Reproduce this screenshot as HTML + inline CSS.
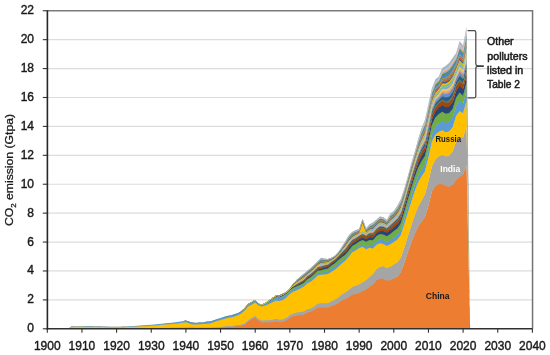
<!DOCTYPE html>
<html><head><meta charset="utf-8"><style>
html,body{margin:0;padding:0;background:#fff;}
svg{display:block;}
text{font-family:"Liberation Sans",Arial,sans-serif;}
</style></head><body>
<svg width="550" height="355" viewBox="0 0 550 355">
<rect width="550" height="355" fill="#fff"/>
<g stroke="#dcdcdc" stroke-width="1.2">
<line x1="47.5" y1="299.89" x2="532.5" y2="299.89"/>
<line x1="47.5" y1="270.97" x2="532.5" y2="270.97"/>
<line x1="47.5" y1="242.06" x2="532.5" y2="242.06"/>
<line x1="47.5" y1="213.14" x2="532.5" y2="213.14"/>
<line x1="47.5" y1="184.23" x2="532.5" y2="184.23"/>
<line x1="47.5" y1="155.32" x2="532.5" y2="155.32"/>
<line x1="47.5" y1="126.40" x2="532.5" y2="126.40"/>
<line x1="47.5" y1="97.49" x2="532.5" y2="97.49"/>
<line x1="47.5" y1="68.57" x2="532.5" y2="68.57"/>
<line x1="47.5" y1="39.66" x2="532.5" y2="39.66"/>
</g>
<g>
<polygon fill="#ED7D31" points="68.09,328.80 71.55,328.08 75.02,328.08 78.48,328.08 81.95,328.08 85.41,328.08 88.88,328.08 92.34,328.08 95.81,328.08 99.27,328.08 102.74,328.08 106.20,328.08 109.67,328.08 113.13,328.08 116.60,328.08 120.06,328.04 123.53,328.00 126.99,327.97 130.46,327.93 133.93,327.93 137.39,327.93 140.85,327.93 144.32,327.91 147.78,327.88 151.25,327.86 154.71,327.84 158.18,327.82 161.64,327.81 165.11,327.79 168.57,327.74 172.04,327.69 175.50,327.64 178.97,327.60 182.44,327.55 185.90,327.50 189.37,327.50 192.83,327.50 196.30,327.57 199.76,327.64 203.22,327.64 206.69,327.64 210.15,327.64 213.62,327.50 217.08,327.28 220.55,327.07 224.01,326.78 227.48,326.49 230.94,326.34 234.41,325.98 237.88,325.62 241.34,325.33 244.81,324.17 248.27,320.99 251.74,318.68 255.20,316.95 258.66,320.27 262.13,321.86 265.59,321.86 269.06,321.86 272.52,321.43 275.99,320.70 279.45,321.72 282.92,321.28 286.38,319.84 289.85,317.09 293.31,315.64 296.78,314.92 300.25,314.34 303.71,314.05 307.18,311.89 310.64,311.31 314.11,309.43 317.57,307.11 321.04,306.83 324.50,306.97 327.96,307.11 331.43,305.52 334.89,304.37 338.36,302.49 341.82,300.03 345.29,298.58 348.75,296.56 352.22,294.25 355.69,293.38 359.15,292.37 362.62,290.63 366.08,289.04 369.55,286.30 373.01,283.98 376.48,279.79 379.94,278.06 383.40,278.06 386.87,280.22 390.33,279.79 393.80,278.06 397.26,276.47 400.73,272.13 404.19,263.02 407.66,252.32 411.12,242.93 414.59,233.82 418.06,226.59 421.52,221.53 424.99,216.76 428.45,205.34 431.92,190.88 435.38,185.82 438.84,183.65 442.31,183.65 445.77,185.39 449.24,186.54 452.70,184.37 456.17,179.46 459.63,176.57 463.10,174.11 466.56,165.00 470.03,328.22 470.03,328.80 466.56,328.80 463.10,328.80 459.63,328.80 456.17,328.80 452.70,328.80 449.24,328.80 445.77,328.80 442.31,328.80 438.84,328.80 435.38,328.80 431.92,328.80 428.45,328.80 424.99,328.80 421.52,328.80 418.06,328.80 414.59,328.80 411.12,328.80 407.66,328.80 404.19,328.80 400.73,328.80 397.26,328.80 393.80,328.80 390.33,328.80 386.87,328.80 383.40,328.80 379.94,328.80 376.48,328.80 373.01,328.80 369.55,328.80 366.08,328.80 362.62,328.80 359.15,328.80 355.69,328.80 352.22,328.80 348.75,328.80 345.29,328.80 341.82,328.80 338.36,328.80 334.89,328.80 331.43,328.80 327.96,328.80 324.50,328.80 321.04,328.80 317.57,328.80 314.11,328.80 310.64,328.80 307.18,328.80 303.71,328.80 300.25,328.80 296.78,328.80 293.31,328.80 289.85,328.80 286.38,328.80 282.92,328.80 279.45,328.80 275.99,328.80 272.52,328.80 269.06,328.80 265.59,328.80 262.13,328.80 258.66,328.80 255.20,328.80 251.74,328.80 248.27,328.80 244.81,328.80 241.34,328.80 237.88,328.80 234.41,328.80 230.94,328.80 227.48,328.80 224.01,328.80 220.55,328.80 217.08,328.80 213.62,328.80 210.15,328.80 206.69,328.80 203.22,328.80 199.76,328.80 196.30,328.80 192.83,328.80 189.37,328.80 185.90,328.80 182.44,328.80 178.97,328.80 175.50,328.80 172.04,328.80 168.57,328.80 165.11,328.80 161.64,328.80 158.18,328.80 154.71,328.80 151.25,328.80 147.78,328.80 144.32,328.80 140.85,328.80 137.39,328.80 133.93,328.80 130.46,328.80 126.99,328.80 123.53,328.80 120.06,328.80 116.60,328.80 113.13,328.80 109.67,328.80 106.20,328.80 102.74,328.80 99.27,328.80 95.81,328.80 92.34,328.80 88.88,328.80 85.41,328.80 81.95,328.80 78.48,328.80 75.02,328.80 71.55,328.80 68.09,328.80"/>
<polygon fill="#A5A5A5" points="68.09,328.80 71.55,327.64 75.02,327.64 78.48,327.64 81.95,327.64 85.41,327.64 88.88,327.64 92.34,327.64 95.81,327.64 99.27,327.64 102.74,327.64 106.20,327.64 109.67,327.64 113.13,327.64 116.60,327.64 120.06,327.59 123.53,327.54 126.99,327.48 130.46,327.43 133.93,327.40 137.39,327.38 140.85,327.35 144.32,327.33 147.78,327.31 151.25,327.28 154.71,327.25 158.18,327.21 161.64,327.17 165.11,327.14 168.57,327.09 172.04,327.04 175.50,326.99 178.97,326.92 182.44,326.85 185.90,326.78 189.37,326.78 192.83,326.78 196.30,326.85 199.76,326.92 203.22,326.90 206.69,326.87 210.15,326.85 213.62,326.63 217.08,326.38 220.55,326.13 224.01,325.80 227.48,325.47 230.94,325.33 234.41,324.90 237.88,324.46 241.34,324.03 244.81,322.73 248.27,319.40 251.74,317.09 255.20,315.21 258.66,318.39 262.13,319.84 265.59,319.69 269.06,319.69 272.52,319.11 275.99,318.25 279.45,319.26 282.92,318.82 286.38,317.23 289.85,314.49 293.31,312.90 296.78,312.03 300.25,311.31 303.71,310.87 307.18,308.56 310.64,307.84 314.11,305.81 317.57,303.21 321.04,302.78 324.50,302.78 327.96,302.63 331.43,300.75 334.89,299.16 338.36,296.85 341.82,293.96 345.29,291.93 348.75,289.33 352.22,286.44 355.69,285.28 359.15,283.98 362.62,281.67 366.08,279.65 369.55,276.47 373.01,273.57 376.48,268.66 379.94,266.49 383.40,265.77 386.87,267.50 390.33,266.20 393.80,263.89 397.26,262.01 400.73,257.38 404.19,247.70 407.66,236.13 411.12,225.58 414.59,215.31 418.06,206.35 421.52,200.42 424.99,193.63 428.45,181.05 431.92,166.01 435.38,159.07 438.84,155.89 442.31,154.30 445.77,156.04 449.24,155.17 452.70,151.12 456.17,141.00 459.63,136.67 463.10,137.24 466.56,126.11 470.03,328.22 470.03,328.80 466.56,165.58 463.10,174.69 459.63,177.15 456.17,180.04 452.70,184.95 449.24,187.12 445.77,185.96 442.31,184.23 438.84,184.23 435.38,186.40 431.92,191.46 428.45,205.92 424.99,217.34 421.52,222.11 418.06,227.17 414.59,234.40 411.12,243.50 407.66,252.90 404.19,263.60 400.73,272.71 397.26,277.04 393.80,278.63 390.33,280.37 386.87,280.80 383.40,278.63 379.94,278.63 376.48,280.37 373.01,284.56 369.55,286.87 366.08,289.62 362.62,291.21 359.15,292.95 355.69,293.96 352.22,294.83 348.75,297.14 345.29,299.16 341.82,300.61 338.36,303.07 334.89,304.95 331.43,306.10 327.96,307.69 324.50,307.55 321.04,307.40 317.57,307.69 314.11,310.01 310.64,311.89 307.18,312.46 303.71,314.63 300.25,314.92 296.78,315.50 293.31,316.22 289.85,317.67 286.38,320.41 282.92,321.86 279.45,322.29 275.99,321.28 272.52,322.01 269.06,322.44 265.59,322.44 262.13,322.44 258.66,320.85 255.20,317.52 251.74,319.26 248.27,321.57 244.81,324.75 241.34,325.91 237.88,326.20 234.41,326.56 230.94,326.92 227.48,327.07 224.01,327.35 220.55,327.64 217.08,327.86 213.62,328.08 210.15,328.22 206.69,328.22 203.22,328.22 199.76,328.22 196.30,328.15 192.83,328.08 189.37,328.08 185.90,328.08 182.44,328.13 178.97,328.17 175.50,328.22 172.04,328.27 168.57,328.32 165.11,328.37 161.64,328.38 158.18,328.40 154.71,328.42 151.25,328.44 147.78,328.46 144.32,328.49 140.85,328.51 137.39,328.51 133.93,328.51 130.46,328.51 126.99,328.55 123.53,328.58 120.06,328.62 116.60,328.66 113.13,328.66 109.67,328.66 106.20,328.66 102.74,328.66 99.27,328.66 95.81,328.66 92.34,328.66 88.88,328.66 85.41,328.66 81.95,328.66 78.48,328.66 75.02,328.66 71.55,328.66 68.09,328.80"/>
<polygon fill="#FFC000" points="68.09,328.80 71.55,326.34 75.02,326.29 78.48,326.25 81.95,326.20 85.41,326.15 88.88,326.10 92.34,326.05 95.81,326.20 99.27,326.34 102.74,326.49 106.20,326.63 109.67,326.78 113.13,326.78 116.60,326.78 120.06,326.69 123.53,326.60 126.99,326.50 130.46,326.41 133.93,326.20 137.39,325.98 140.85,325.76 144.32,325.60 147.78,325.43 151.25,325.26 154.71,324.93 158.18,324.61 161.64,324.28 165.11,323.96 168.57,323.72 172.04,323.48 175.50,323.23 178.97,322.73 182.44,322.22 185.90,321.72 189.37,322.87 192.83,324.03 196.30,323.81 199.76,323.60 203.22,323.33 206.69,323.07 210.15,322.80 213.62,321.72 217.08,320.52 220.55,319.33 224.01,318.43 227.48,317.52 230.94,316.95 234.41,315.86 237.88,314.78 241.34,312.90 244.81,309.86 248.27,305.96 251.74,304.08 255.20,301.91 258.66,305.24 262.13,305.96 265.59,304.80 269.06,303.50 272.52,301.77 275.99,300.18 279.45,300.46 282.92,299.31 286.38,296.99 289.85,293.52 293.31,291.21 296.78,289.62 300.25,287.89 303.71,286.30 307.18,282.83 310.64,281.09 314.11,278.35 317.57,275.02 321.04,274.15 324.50,273.86 327.96,273.43 331.43,271.12 334.89,269.09 338.36,266.20 341.82,262.88 345.29,260.13 348.75,256.08 352.22,251.74 355.69,249.86 359.15,247.41 362.62,246.25 366.08,248.56 369.55,247.12 373.01,247.99 376.48,244.08 379.94,242.64 383.40,243.36 386.87,245.53 390.33,243.79 393.80,241.34 397.26,239.17 400.73,234.68 404.19,224.28 407.66,212.57 411.12,201.87 414.59,190.88 418.06,181.92 421.52,175.56 424.99,170.64 428.45,156.91 431.92,141.00 435.38,133.92 438.84,131.17 442.31,129.58 445.77,131.61 449.24,130.74 452.70,126.40 456.17,115.27 459.63,110.35 463.10,112.67 466.56,100.38 470.03,328.22 470.03,328.80 466.56,126.69 463.10,137.82 459.63,137.24 456.17,141.58 452.70,151.70 449.24,155.75 445.77,156.62 442.31,154.88 438.84,156.47 435.38,159.65 431.92,166.59 428.45,181.63 424.99,194.21 421.52,201.00 418.06,206.93 414.59,215.89 411.12,226.16 407.66,236.71 404.19,248.27 400.73,257.96 397.26,262.59 393.80,264.47 390.33,266.78 386.87,268.08 383.40,266.35 379.94,267.07 376.48,269.24 373.01,274.15 369.55,277.04 366.08,280.22 362.62,282.25 359.15,284.56 355.69,285.86 352.22,287.02 348.75,289.91 345.29,292.51 341.82,294.54 338.36,297.43 334.89,299.74 331.43,301.33 327.96,303.21 324.50,303.36 321.04,303.36 317.57,303.79 314.11,306.39 310.64,308.42 307.18,309.14 303.71,311.45 300.25,311.89 296.78,312.61 293.31,313.48 289.85,315.07 286.38,317.81 282.92,319.40 279.45,319.84 275.99,318.82 272.52,319.69 269.06,320.27 265.59,320.27 262.13,320.41 258.66,318.97 255.20,315.79 251.74,317.67 248.27,319.98 244.81,323.31 241.34,324.61 237.88,325.04 234.41,325.47 230.94,325.91 227.48,326.05 224.01,326.38 220.55,326.70 217.08,326.96 213.62,327.21 210.15,327.43 206.69,327.45 203.22,327.47 199.76,327.50 196.30,327.43 192.83,327.35 189.37,327.35 185.90,327.35 182.44,327.43 178.97,327.50 175.50,327.57 172.04,327.62 168.57,327.67 165.11,327.72 161.64,327.75 158.18,327.79 154.71,327.82 151.25,327.86 147.78,327.88 144.32,327.91 140.85,327.93 137.39,327.96 133.93,327.98 130.46,328.00 126.99,328.06 123.53,328.11 120.06,328.17 116.60,328.22 113.13,328.22 109.67,328.22 106.20,328.22 102.74,328.22 99.27,328.22 95.81,328.22 92.34,328.22 88.88,328.22 85.41,328.22 81.95,328.22 78.48,328.22 75.02,328.22 71.55,328.22 68.09,328.80"/>
<polygon fill="#5B9BD5" points="68.09,328.80 71.55,326.34 75.02,326.27 78.48,326.20 81.95,326.13 85.41,326.08 88.88,326.03 92.34,325.98 95.81,326.13 99.27,326.27 102.74,326.44 106.20,326.61 109.67,326.78 113.13,326.78 116.60,326.78 120.06,326.67 123.53,326.56 126.99,326.45 130.46,326.34 133.93,326.08 137.39,325.81 140.85,325.55 144.32,325.31 147.78,325.07 151.25,324.82 154.71,324.44 158.18,324.07 161.64,323.69 165.11,323.31 168.57,322.99 172.04,322.68 175.50,322.37 178.97,321.76 182.44,321.16 185.90,320.56 189.37,321.72 192.83,322.87 196.30,322.66 199.76,322.44 203.22,322.15 206.69,321.86 210.15,321.57 213.62,320.41 217.08,319.15 220.55,317.88 224.01,316.98 227.48,316.08 230.94,315.50 234.41,314.34 237.88,313.19 241.34,311.22 244.81,308.10 248.27,304.11 251.74,302.26 255.20,300.12 258.66,303.98 262.13,304.89 265.59,303.30 269.06,301.73 272.52,299.16 275.99,297.20 279.45,297.47 282.92,296.24 286.38,294.19 289.85,290.63 293.31,288.40 296.78,287.26 300.25,285.74 303.71,284.20 307.18,280.59 310.64,278.91 314.11,276.10 317.57,272.77 321.04,272.45 324.50,271.63 327.96,271.03 331.43,268.08 334.89,266.11 338.36,263.09 341.82,260.37 345.29,258.02 348.75,253.91 352.22,249.67 355.69,247.89 359.15,245.53 362.62,244.11 366.08,246.16 369.55,244.46 373.01,245.07 376.48,240.90 379.94,239.22 383.40,239.72 386.87,241.65 390.33,239.69 393.80,237.00 397.26,234.60 400.73,229.89 404.19,219.24 407.66,207.30 411.12,196.37 414.59,185.13 418.06,175.90 421.52,169.28 424.99,164.11 428.45,150.11 431.92,133.85 435.38,126.40 438.84,122.93 442.31,120.62 445.77,122.50 449.24,121.49 452.70,116.86 456.17,105.44 459.63,100.23 463.10,103.13 466.56,90.26 470.03,328.22 470.03,328.80 466.56,100.96 463.10,113.25 459.63,110.93 456.17,115.85 452.70,126.98 449.24,131.32 445.77,132.18 442.31,130.16 438.84,131.75 435.38,134.50 431.92,141.58 428.45,157.48 424.99,171.22 421.52,176.13 418.06,182.50 414.59,191.46 411.12,202.45 407.66,213.14 404.19,224.85 400.73,235.26 397.26,239.74 393.80,241.91 390.33,244.37 386.87,246.11 383.40,243.94 379.94,243.21 376.48,244.66 373.01,248.56 369.55,247.70 366.08,249.14 362.62,246.83 359.15,247.99 355.69,250.44 352.22,252.32 348.75,256.66 345.29,260.71 341.82,263.45 338.36,266.78 334.89,269.67 331.43,271.69 327.96,274.01 324.50,274.44 321.04,274.73 317.57,275.60 314.11,278.92 310.64,281.67 307.18,283.41 303.71,286.87 300.25,288.46 296.78,290.20 293.31,291.79 289.85,294.10 286.38,297.57 282.92,299.89 279.45,301.04 275.99,300.75 272.52,302.34 269.06,304.08 265.59,305.38 262.13,306.54 258.66,305.81 255.20,302.49 251.74,304.66 248.27,306.54 244.81,310.44 241.34,313.48 237.88,315.35 234.41,316.44 230.94,317.52 227.48,318.10 224.01,319.01 220.55,319.91 217.08,321.10 213.62,322.29 210.15,323.38 206.69,323.64 203.22,323.91 199.76,324.17 196.30,324.39 192.83,324.61 189.37,323.45 185.90,322.29 182.44,322.80 178.97,323.31 175.50,323.81 172.04,324.05 168.57,324.29 165.11,324.54 161.64,324.86 158.18,325.19 154.71,325.51 151.25,325.84 147.78,326.00 144.32,326.17 140.85,326.34 137.39,326.56 133.93,326.78 130.46,326.99 126.99,327.08 123.53,327.17 120.06,327.26 116.60,327.35 113.13,327.35 109.67,327.35 106.20,327.21 102.74,327.07 99.27,326.92 95.81,326.78 92.34,326.63 88.88,326.68 85.41,326.73 81.95,326.78 78.48,326.82 75.02,326.87 71.55,326.92 68.09,328.80"/>
<polygon fill="#70AD47" points="68.09,328.80 71.55,326.34 75.02,326.27 78.48,326.20 81.95,326.13 85.41,326.08 88.88,326.03 92.34,325.98 95.81,326.13 99.27,326.27 102.74,326.44 106.20,326.61 109.67,326.78 113.13,326.78 116.60,326.78 120.06,326.67 123.53,326.56 126.99,326.45 130.46,326.34 133.93,326.08 137.39,325.81 140.85,325.55 144.32,325.31 147.78,325.07 151.25,324.82 154.71,324.44 158.18,324.07 161.64,323.69 165.11,323.31 168.57,322.99 172.04,322.68 175.50,322.37 178.97,321.76 182.44,321.16 185.90,320.56 189.37,321.72 192.83,322.87 196.30,322.66 199.76,322.44 203.22,322.15 206.69,321.86 210.15,321.57 213.62,320.41 217.08,319.15 220.55,317.88 224.01,316.98 227.48,316.08 230.94,315.50 234.41,314.34 237.88,313.19 241.34,311.16 244.81,307.98 248.27,303.93 251.74,302.05 255.20,299.89 258.66,303.79 262.13,304.66 265.59,302.91 269.06,301.15 272.52,298.44 275.99,296.39 279.45,296.57 282.92,295.26 286.38,293.12 289.85,289.48 293.31,287.07 296.78,285.75 300.25,284.07 303.71,282.35 307.18,278.56 310.64,276.71 314.11,273.73 317.57,270.23 321.04,269.73 324.50,268.74 327.96,267.97 331.43,264.86 334.89,262.73 338.36,259.53 341.82,256.65 345.29,254.14 348.75,249.86 352.22,245.43 355.69,243.46 359.15,240.90 362.62,239.31 366.08,241.19 369.55,239.31 373.01,239.74 376.48,235.41 379.94,233.53 383.40,233.82 386.87,235.55 390.33,233.38 393.80,230.49 397.26,227.80 400.73,222.80 404.19,211.87 407.66,199.64 411.12,188.42 414.59,176.91 418.06,167.43 421.52,160.55 424.99,155.11 428.45,140.86 431.92,124.45 435.38,116.86 438.84,113.39 442.31,111.08 445.77,113.25 449.24,112.52 452.70,108.09 456.17,96.86 459.63,91.85 463.10,95.17 466.56,82.02 470.03,328.22 470.03,328.80 466.56,90.84 463.10,103.70 459.63,100.81 456.17,106.02 452.70,117.44 449.24,122.06 445.77,123.08 442.31,121.20 438.84,123.51 435.38,126.98 431.92,134.43 428.45,150.69 424.99,164.68 421.52,169.86 418.06,176.48 414.59,185.70 411.12,196.95 407.66,207.88 404.19,219.82 400.73,230.46 397.26,235.18 393.80,237.58 390.33,240.27 386.87,242.23 383.40,240.29 379.94,239.80 376.48,241.48 373.01,245.64 369.55,245.04 366.08,246.74 362.62,244.69 359.15,246.11 355.69,248.47 352.22,250.25 348.75,254.49 345.29,258.60 341.82,260.95 338.36,263.66 334.89,266.69 331.43,268.66 327.96,271.60 324.50,272.21 321.04,273.02 317.57,273.35 314.11,276.68 310.64,279.49 307.18,281.17 303.71,284.77 300.25,286.32 296.78,287.83 293.31,288.97 289.85,291.21 286.38,294.77 282.92,296.82 279.45,298.05 275.99,297.78 272.52,299.74 269.06,302.31 265.59,303.88 262.13,305.46 258.66,304.56 255.20,300.70 251.74,302.84 248.27,304.69 244.81,308.68 241.34,311.80 237.88,313.60 234.41,314.57 230.94,315.72 227.48,316.31 224.01,317.22 220.55,318.12 217.08,319.38 213.62,320.63 210.15,321.78 206.69,322.07 203.22,322.35 199.76,322.64 196.30,322.85 192.83,323.06 189.37,321.90 185.90,320.73 182.44,321.16 178.97,321.76 175.50,322.37 172.04,322.68 168.57,322.99 165.11,323.31 161.64,323.69 158.18,324.07 154.71,324.44 151.25,324.82 147.78,325.07 144.32,325.31 140.85,325.55 137.39,325.81 133.93,326.08 130.46,326.34 126.99,326.45 123.53,326.56 120.06,326.67 116.60,326.78 113.13,326.78 109.67,326.78 106.20,326.61 102.74,326.44 99.27,326.27 95.81,326.13 92.34,325.98 88.88,326.03 85.41,326.08 81.95,326.13 78.48,326.20 75.02,326.27 71.55,326.34 68.09,328.80"/>
<polygon fill="#264478" points="68.09,328.80 71.55,326.34 75.02,326.27 78.48,326.20 81.95,326.13 85.41,326.08 88.88,326.03 92.34,325.98 95.81,326.13 99.27,326.27 102.74,326.44 106.20,326.61 109.67,326.78 113.13,326.78 116.60,326.78 120.06,326.67 123.53,326.56 126.99,326.45 130.46,326.34 133.93,326.08 137.39,325.81 140.85,325.55 144.32,325.31 147.78,325.07 151.25,324.82 154.71,324.44 158.18,324.07 161.64,323.69 165.11,323.31 168.57,322.99 172.04,322.68 175.50,322.37 178.97,321.76 182.44,321.16 185.90,320.56 189.37,321.72 192.83,322.87 196.30,322.66 199.76,322.44 203.22,322.15 206.69,321.86 210.15,321.57 213.62,320.41 217.08,319.15 220.55,317.88 224.01,316.98 227.48,316.08 230.94,315.50 234.41,314.34 237.88,313.19 241.34,311.16 244.81,307.98 248.27,303.93 251.74,302.05 255.20,299.89 258.66,303.79 262.13,304.66 265.59,302.78 269.06,300.73 272.52,297.93 275.99,295.84 279.45,295.98 282.92,294.62 286.38,292.44 289.85,288.75 293.31,286.27 296.78,284.89 300.25,283.13 303.71,281.33 307.18,277.48 310.64,275.56 314.11,272.50 317.57,268.93 321.04,268.36 324.50,267.29 327.96,266.40 331.43,263.16 334.89,260.91 338.36,257.59 341.82,254.59 345.29,251.95 348.75,247.55 352.22,243.17 355.69,241.24 359.15,238.73 362.62,237.03 366.08,238.79 369.55,236.80 373.01,237.11 376.48,232.66 379.94,230.61 383.40,230.72 386.87,232.29 390.33,229.94 393.80,226.88 397.26,224.04 400.73,218.90 404.19,207.82 407.66,195.45 411.12,184.09 414.59,172.40 418.06,162.75 421.52,155.69 424.99,150.08 428.45,135.65 431.92,118.96 435.38,111.08 438.84,107.32 442.31,104.72 445.77,106.86 449.24,106.10 452.70,101.64 456.17,90.38 459.63,85.34 463.10,88.60 466.56,75.37 470.03,328.22 470.03,328.80 466.56,82.60 463.10,95.75 459.63,92.43 456.17,97.44 452.70,108.67 449.24,113.10 445.77,113.82 442.31,111.66 438.84,113.97 435.38,117.44 431.92,125.03 428.45,141.44 424.99,155.69 421.52,161.13 418.06,168.01 414.59,177.49 411.12,189.00 407.66,200.22 404.19,212.45 400.73,223.38 397.26,228.38 393.80,231.07 390.33,233.96 386.87,236.13 383.40,234.40 379.94,234.11 376.48,235.99 373.01,240.32 369.55,239.89 366.08,241.77 362.62,239.89 359.15,241.48 355.69,244.03 352.22,246.01 348.75,250.44 345.29,254.72 341.82,257.23 338.36,260.11 334.89,263.30 331.43,265.44 327.96,268.55 324.50,269.32 321.04,270.31 317.57,270.81 314.11,274.31 310.64,277.29 307.18,279.14 303.71,282.92 300.25,284.64 296.78,286.33 293.31,287.64 289.85,290.06 286.38,293.70 282.92,295.84 279.45,297.15 275.99,296.97 272.52,299.02 269.06,301.73 265.59,303.49 262.13,305.23 258.66,304.33 255.20,300.44 251.74,302.59 248.27,304.45 244.81,308.46 241.34,311.61 237.88,313.60 234.41,314.57 230.94,315.72 227.48,316.31 224.01,317.22 220.55,318.12 217.08,319.38 213.62,320.63 210.15,321.78 206.69,322.07 203.22,322.35 199.76,322.64 196.30,322.85 192.83,323.06 189.37,321.90 185.90,320.73 182.44,321.16 178.97,321.76 175.50,322.37 172.04,322.68 168.57,322.99 165.11,323.31 161.64,323.69 158.18,324.07 154.71,324.44 151.25,324.82 147.78,325.07 144.32,325.31 140.85,325.55 137.39,325.81 133.93,326.08 130.46,326.34 126.99,326.45 123.53,326.56 120.06,326.67 116.60,326.78 113.13,326.78 109.67,326.78 106.20,326.61 102.74,326.44 99.27,326.27 95.81,326.13 92.34,325.98 88.88,326.03 85.41,326.08 81.95,326.13 78.48,326.20 75.02,326.27 71.55,326.34 68.09,328.80"/>
<polygon fill="#9E480E" points="68.09,328.80 71.55,326.34 75.02,326.27 78.48,326.20 81.95,326.13 85.41,326.08 88.88,326.03 92.34,325.98 95.81,326.13 99.27,326.27 102.74,326.44 106.20,326.61 109.67,326.78 113.13,326.78 116.60,326.78 120.06,326.67 123.53,326.56 126.99,326.45 130.46,326.34 133.93,326.08 137.39,325.81 140.85,325.55 144.32,325.31 147.78,325.07 151.25,324.82 154.71,324.44 158.18,324.07 161.64,323.69 165.11,323.31 168.57,322.99 172.04,322.68 175.50,322.37 178.97,321.76 182.44,321.16 185.90,320.56 189.37,321.72 192.83,322.87 196.30,322.66 199.76,322.44 203.22,322.15 206.69,321.86 210.15,321.57 213.62,320.41 217.08,319.15 220.55,317.88 224.01,316.98 227.48,316.08 230.94,315.50 234.41,314.34 237.88,313.19 241.34,311.16 244.81,307.98 248.27,303.93 251.74,302.05 255.20,299.89 258.66,303.79 262.13,304.66 265.59,302.78 269.06,300.61 272.52,297.72 275.99,295.55 279.45,295.63 282.92,294.24 286.38,292.04 289.85,288.32 293.31,285.78 296.78,284.34 300.25,282.52 303.71,280.67 307.18,276.76 310.64,274.78 314.11,271.66 317.57,268.03 321.04,267.40 324.50,266.28 327.96,265.24 331.43,261.86 334.89,259.46 338.36,256.00 341.82,252.85 345.29,250.07 348.75,245.53 352.22,241.14 355.69,239.21 359.15,236.71 362.62,234.92 366.08,236.59 369.55,234.51 373.01,234.74 376.48,230.20 379.94,228.06 383.40,228.09 386.87,229.57 390.33,227.14 393.80,223.99 397.26,221.10 400.73,215.89 404.19,204.76 407.66,192.33 411.12,180.90 414.59,169.11 418.06,159.34 421.52,152.16 424.99,146.44 428.45,131.90 431.92,115.11 435.38,107.15 438.84,103.30 442.31,100.61 445.77,102.66 449.24,101.88 452.70,97.38 456.17,86.08 459.63,81.01 463.10,84.19 466.56,70.89 470.03,328.22 470.03,328.80 466.56,75.95 463.10,89.18 459.63,85.92 456.17,90.96 452.70,102.22 449.24,106.68 445.77,107.43 442.31,105.29 438.84,107.90 435.38,111.66 431.92,119.53 428.45,136.23 424.99,150.66 421.52,156.27 418.06,163.33 414.59,172.98 411.12,184.66 407.66,196.03 404.19,208.40 400.73,219.48 397.26,224.62 393.80,227.46 390.33,230.52 386.87,232.86 383.40,231.30 379.94,231.19 376.48,233.24 373.01,237.69 369.55,237.37 366.08,239.37 362.62,237.61 359.15,239.31 355.69,241.82 352.22,243.74 348.75,248.13 345.29,252.53 341.82,255.17 338.36,258.17 334.89,261.49 331.43,263.74 327.96,266.98 324.50,267.87 321.04,268.93 317.57,269.51 314.11,273.08 310.64,276.14 307.18,278.06 303.71,281.91 300.25,283.70 296.78,285.46 293.31,286.85 289.85,289.33 286.38,293.02 282.92,295.20 279.45,296.56 275.99,296.42 272.52,298.51 269.06,301.31 265.59,303.20 262.13,305.03 258.66,304.12 255.20,300.18 251.74,302.32 248.27,304.18 244.81,308.21 241.34,311.36 237.88,313.37 234.41,314.34 230.94,315.50 227.48,316.08 224.01,316.98 220.55,317.88 217.08,319.15 213.62,320.41 210.15,321.57 206.69,321.86 203.22,322.15 199.76,322.44 196.30,322.66 192.83,322.87 189.37,321.72 185.90,320.56 182.44,321.16 178.97,321.76 175.50,322.37 172.04,322.68 168.57,322.99 165.11,323.31 161.64,323.69 158.18,324.07 154.71,324.44 151.25,324.82 147.78,325.07 144.32,325.31 140.85,325.55 137.39,325.81 133.93,326.08 130.46,326.34 126.99,326.45 123.53,326.56 120.06,326.67 116.60,326.78 113.13,326.78 109.67,326.78 106.20,326.61 102.74,326.44 99.27,326.27 95.81,326.13 92.34,325.98 88.88,326.03 85.41,326.08 81.95,326.13 78.48,326.20 75.02,326.27 71.55,326.34 68.09,328.80"/>
<polygon fill="#636363" points="68.09,328.80 71.55,326.34 75.02,326.27 78.48,326.20 81.95,326.13 85.41,326.08 88.88,326.03 92.34,325.98 95.81,326.13 99.27,326.27 102.74,326.44 106.20,326.61 109.67,326.78 113.13,326.78 116.60,326.78 120.06,326.67 123.53,326.56 126.99,326.45 130.46,326.34 133.93,326.08 137.39,325.81 140.85,325.55 144.32,325.31 147.78,325.07 151.25,324.82 154.71,324.44 158.18,324.07 161.64,323.69 165.11,323.31 168.57,322.99 172.04,322.68 175.50,322.37 178.97,321.76 182.44,321.16 185.90,320.56 189.37,321.72 192.83,322.87 196.30,322.66 199.76,322.44 203.22,322.15 206.69,321.86 210.15,321.57 213.62,320.41 217.08,319.15 220.55,317.88 224.01,316.98 227.48,316.08 230.94,315.50 234.41,314.34 237.88,313.19 241.34,311.16 244.81,307.98 248.27,303.93 251.74,302.05 255.20,299.89 258.66,303.79 262.13,304.66 265.59,302.78 269.06,300.61 272.52,297.72 275.99,295.55 279.45,295.63 282.92,294.24 286.38,292.04 289.85,288.32 293.31,285.78 296.78,284.12 300.25,282.28 303.71,280.40 307.18,276.53 310.64,274.52 314.11,271.41 317.57,267.79 321.04,267.08 324.50,266.02 327.96,265.02 331.43,261.86 334.89,259.46 338.36,256.00 341.82,252.66 345.29,249.79 348.75,245.21 352.22,240.85 355.69,238.93 359.15,236.47 362.62,234.66 366.08,236.34 369.55,234.22 373.01,234.39 376.48,229.90 379.94,227.74 383.40,227.79 386.87,229.31 390.33,226.79 393.80,223.65 397.26,220.71 400.73,215.48 404.19,204.38 407.66,191.96 411.12,180.51 414.59,168.72 418.06,158.89 421.52,151.63 424.99,145.85 428.45,131.29 431.92,114.54 435.38,106.56 438.84,102.75 442.31,99.94 445.77,101.92 449.24,101.10 452.70,96.61 456.17,85.45 459.63,80.26 463.10,83.47 466.56,70.08 470.03,328.22 470.03,328.80 466.56,71.47 463.10,84.77 459.63,81.59 456.17,86.66 452.70,97.96 449.24,102.45 445.77,103.24 442.31,101.19 438.84,103.88 435.38,107.72 431.92,115.69 428.45,132.47 424.99,147.02 421.52,152.74 418.06,159.91 414.59,169.69 411.12,181.48 407.66,192.90 404.19,205.34 400.73,216.47 397.26,221.67 393.80,224.57 390.33,227.72 386.87,230.15 383.40,228.67 379.94,228.64 376.48,230.78 373.01,235.32 369.55,235.09 366.08,237.17 362.62,235.49 359.15,237.29 355.69,239.79 352.22,241.72 348.75,246.11 345.29,250.65 341.82,253.43 338.36,256.58 334.89,260.04 331.43,262.44 327.96,265.82 324.50,266.86 321.04,267.98 317.57,268.61 314.11,272.24 310.64,275.36 307.18,277.33 303.71,281.25 300.25,283.10 296.78,284.91 293.31,286.36 289.85,288.90 286.38,292.61 282.92,294.82 279.45,296.21 275.99,296.10 272.52,298.22 269.06,301.07 265.59,303.20 262.13,305.03 258.66,304.12 255.20,300.18 251.74,302.32 248.27,304.18 244.81,308.21 241.34,311.36 237.88,313.37 234.41,314.34 230.94,315.50 227.48,316.08 224.01,316.98 220.55,317.88 217.08,319.15 213.62,320.41 210.15,321.57 206.69,321.86 203.22,322.15 199.76,322.44 196.30,322.66 192.83,322.87 189.37,321.72 185.90,320.56 182.44,321.16 178.97,321.76 175.50,322.37 172.04,322.68 168.57,322.99 165.11,323.31 161.64,323.69 158.18,324.07 154.71,324.44 151.25,324.82 147.78,325.07 144.32,325.31 140.85,325.55 137.39,325.81 133.93,326.08 130.46,326.34 126.99,326.45 123.53,326.56 120.06,326.67 116.60,326.78 113.13,326.78 109.67,326.78 106.20,326.61 102.74,326.44 99.27,326.27 95.81,326.13 92.34,325.98 88.88,326.03 85.41,326.08 81.95,326.13 78.48,326.20 75.02,326.27 71.55,326.34 68.09,328.80"/>
<polygon fill="#997300" points="68.09,328.80 71.55,326.34 75.02,326.27 78.48,326.20 81.95,326.13 85.41,326.08 88.88,326.03 92.34,325.98 95.81,326.13 99.27,326.27 102.74,326.44 106.20,326.61 109.67,326.78 113.13,326.78 116.60,326.78 120.06,326.67 123.53,326.56 126.99,326.45 130.46,326.34 133.93,326.08 137.39,325.81 140.85,325.55 144.32,325.31 147.78,325.07 151.25,324.82 154.71,324.44 158.18,324.07 161.64,323.69 165.11,323.31 168.57,322.99 172.04,322.68 175.50,322.37 178.97,321.76 182.44,321.16 185.90,320.56 189.37,321.72 192.83,322.87 196.30,322.66 199.76,322.44 203.22,322.15 206.69,321.86 210.15,321.57 213.62,320.41 217.08,319.15 220.55,317.88 224.01,316.98 227.48,316.08 230.94,315.50 234.41,314.34 237.88,313.19 241.34,311.16 244.81,307.98 248.27,303.93 251.74,302.05 255.20,299.89 258.66,303.79 262.13,304.66 265.59,302.78 269.06,300.61 272.52,297.72 275.99,295.55 279.45,295.63 282.92,294.24 286.38,292.04 289.85,288.32 293.31,285.78 296.78,283.89 300.25,282.01 303.71,280.08 307.18,276.25 310.64,274.20 314.11,271.07 317.57,267.47 321.04,266.63 324.50,265.64 327.96,264.70 331.43,261.62 334.89,259.25 338.36,255.79 341.82,252.40 345.29,249.43 348.75,244.81 352.22,240.49 355.69,238.59 359.15,236.18 362.62,234.34 366.08,236.04 369.55,233.86 373.01,233.95 376.48,229.53 379.94,227.34 383.40,227.42 386.87,228.99 390.33,226.34 393.80,223.22 397.26,220.21 400.73,214.95 404.19,203.89 407.66,191.48 411.12,179.98 414.59,168.21 418.06,158.30 421.52,150.91 424.99,145.05 428.45,130.46 431.92,113.75 435.38,105.75 438.84,101.97 442.31,99.00 445.77,100.86 449.24,99.99 452.70,95.48 456.17,84.53 459.63,79.15 463.10,82.40 466.56,68.87 470.03,328.22 470.03,328.80 466.56,70.66 463.10,84.05 459.63,80.83 456.17,86.03 452.70,97.18 449.24,101.68 445.77,102.50 442.31,100.52 438.84,103.33 435.38,107.14 431.92,115.12 428.45,131.87 424.99,146.43 421.52,152.21 418.06,159.47 414.59,169.30 411.12,181.09 407.66,192.54 404.19,204.96 400.73,216.06 397.26,221.29 393.80,224.23 390.33,227.37 386.87,229.89 383.40,228.37 379.94,228.32 376.48,230.48 373.01,234.97 369.55,234.80 366.08,236.92 362.62,235.23 359.15,237.05 355.69,239.51 352.22,241.43 348.75,245.79 345.29,250.37 341.82,253.24 338.36,256.58 334.89,260.04 331.43,262.44 327.96,265.60 324.50,266.60 321.04,267.66 317.57,268.37 314.11,271.98 310.64,275.10 307.18,277.10 303.71,280.98 300.25,282.86 296.78,284.70 293.31,286.36 289.85,288.90 286.38,292.61 282.92,294.82 279.45,296.21 275.99,296.10 272.52,298.22 269.06,301.07 265.59,303.20 262.13,305.03 258.66,304.12 255.20,300.18 251.74,302.32 248.27,304.18 244.81,308.21 241.34,311.36 237.88,313.37 234.41,314.34 230.94,315.50 227.48,316.08 224.01,316.98 220.55,317.88 217.08,319.15 213.62,320.41 210.15,321.57 206.69,321.86 203.22,322.15 199.76,322.44 196.30,322.66 192.83,322.87 189.37,321.72 185.90,320.56 182.44,321.16 178.97,321.76 175.50,322.37 172.04,322.68 168.57,322.99 165.11,323.31 161.64,323.69 158.18,324.07 154.71,324.44 151.25,324.82 147.78,325.07 144.32,325.31 140.85,325.55 137.39,325.81 133.93,326.08 130.46,326.34 126.99,326.45 123.53,326.56 120.06,326.67 116.60,326.78 113.13,326.78 109.67,326.78 106.20,326.61 102.74,326.44 99.27,326.27 95.81,326.13 92.34,325.98 88.88,326.03 85.41,326.08 81.95,326.13 78.48,326.20 75.02,326.27 71.55,326.34 68.09,328.80"/>
<polygon fill="#255E91" points="68.09,328.80 71.55,326.34 75.02,326.27 78.48,326.20 81.95,326.13 85.41,326.08 88.88,326.03 92.34,325.98 95.81,326.13 99.27,326.27 102.74,326.44 106.20,326.61 109.67,326.78 113.13,326.78 116.60,326.78 120.06,326.67 123.53,326.56 126.99,326.45 130.46,326.34 133.93,326.08 137.39,325.81 140.85,325.55 144.32,325.31 147.78,325.07 151.25,324.82 154.71,324.44 158.18,324.07 161.64,323.69 165.11,323.31 168.57,322.99 172.04,322.68 175.50,322.37 178.97,321.76 182.44,321.16 185.90,320.56 189.37,321.72 192.83,322.87 196.30,322.66 199.76,322.44 203.22,322.15 206.69,321.86 210.15,321.57 213.62,320.41 217.08,319.15 220.55,317.88 224.01,316.98 227.48,316.08 230.94,315.50 234.41,314.34 237.88,313.19 241.34,311.16 244.81,307.98 248.27,303.93 251.74,302.05 255.20,299.89 258.66,303.79 262.13,304.66 265.59,302.78 269.06,300.61 272.52,297.72 275.99,295.55 279.45,295.63 282.92,294.24 286.38,292.04 289.85,288.32 293.31,285.78 296.78,283.89 300.25,281.80 303.71,279.84 307.18,276.03 310.64,273.95 314.11,270.80 317.57,267.22 321.04,266.27 324.50,265.33 327.96,264.43 331.43,261.40 334.89,259.05 338.36,255.57 341.82,252.11 345.29,249.02 348.75,244.32 352.22,240.02 355.69,238.11 359.15,235.76 362.62,233.87 366.08,235.57 369.55,233.27 373.01,233.22 376.48,228.88 379.94,226.61 383.40,226.72 386.87,228.37 390.33,225.46 393.80,222.33 397.26,219.16 400.73,213.79 404.19,202.79 407.66,190.37 411.12,178.74 414.59,166.97 418.06,156.83 421.52,149.09 424.99,142.99 428.45,128.26 431.92,111.63 435.38,103.52 438.84,99.79 442.31,96.29 445.77,97.76 449.24,96.68 452.70,92.09 456.17,81.70 459.63,75.67 463.10,78.99 466.56,64.93 470.03,328.22 470.03,328.80 466.56,69.45 463.10,82.98 459.63,79.72 456.17,85.11 452.70,96.06 449.24,100.57 445.77,101.44 442.31,99.57 438.84,102.55 435.38,106.33 431.92,114.33 428.45,131.03 424.99,145.63 421.52,151.49 418.06,158.87 414.59,168.79 411.12,180.56 407.66,192.05 404.19,204.46 400.73,215.52 397.26,220.79 393.80,223.80 390.33,226.92 386.87,229.57 383.40,228.00 379.94,227.92 376.48,230.11 373.01,234.53 369.55,234.44 366.08,236.62 362.62,234.92 359.15,236.76 355.69,239.16 352.22,241.07 348.75,245.39 345.29,250.01 341.82,252.97 338.36,256.37 334.89,259.83 331.43,262.20 327.96,265.28 324.50,266.22 321.04,267.21 317.57,268.05 314.11,271.65 310.64,274.78 307.18,276.83 303.71,280.66 300.25,282.59 296.78,284.47 293.31,286.36 289.85,288.90 286.38,292.61 282.92,294.82 279.45,296.21 275.99,296.10 272.52,298.22 269.06,301.07 265.59,303.20 262.13,305.03 258.66,304.12 255.20,300.18 251.74,302.32 248.27,304.18 244.81,308.21 241.34,311.36 237.88,313.37 234.41,314.34 230.94,315.50 227.48,316.08 224.01,316.98 220.55,317.88 217.08,319.15 213.62,320.41 210.15,321.57 206.69,321.86 203.22,322.15 199.76,322.44 196.30,322.66 192.83,322.87 189.37,321.72 185.90,320.56 182.44,321.16 178.97,321.76 175.50,322.37 172.04,322.68 168.57,322.99 165.11,323.31 161.64,323.69 158.18,324.07 154.71,324.44 151.25,324.82 147.78,325.07 144.32,325.31 140.85,325.55 137.39,325.81 133.93,326.08 130.46,326.34 126.99,326.45 123.53,326.56 120.06,326.67 116.60,326.78 113.13,326.78 109.67,326.78 106.20,326.61 102.74,326.44 99.27,326.27 95.81,326.13 92.34,325.98 88.88,326.03 85.41,326.08 81.95,326.13 78.48,326.20 75.02,326.27 71.55,326.34 68.09,328.80"/>
<polygon fill="#43682B" points="68.09,328.80 71.55,326.34 75.02,326.27 78.48,326.20 81.95,326.13 85.41,326.08 88.88,326.03 92.34,325.98 95.81,326.13 99.27,326.27 102.74,326.44 106.20,326.61 109.67,326.78 113.13,326.78 116.60,326.78 120.06,326.67 123.53,326.56 126.99,326.45 130.46,326.34 133.93,326.08 137.39,325.81 140.85,325.55 144.32,325.31 147.78,325.07 151.25,324.82 154.71,324.44 158.18,324.07 161.64,323.69 165.11,323.31 168.57,322.99 172.04,322.68 175.50,322.37 178.97,321.76 182.44,321.16 185.90,320.56 189.37,321.72 192.83,322.87 196.30,322.66 199.76,322.44 203.22,322.15 206.69,321.86 210.15,321.57 213.62,320.41 217.08,319.15 220.55,317.88 224.01,316.98 227.48,316.08 230.94,315.50 234.41,314.34 237.88,313.19 241.34,311.16 244.81,307.98 248.27,303.93 251.74,302.05 255.20,299.89 258.66,303.79 262.13,304.66 265.59,302.78 269.06,300.61 272.52,297.72 275.99,295.55 279.45,295.63 282.92,294.24 286.38,292.04 289.85,288.32 293.31,285.78 296.78,283.68 300.25,281.57 303.71,279.57 307.18,275.80 310.64,273.70 314.11,270.54 317.57,266.98 321.04,265.95 324.50,265.07 327.96,264.21 331.43,261.40 334.89,259.05 338.36,255.57 341.82,251.92 345.29,248.74 348.75,244.01 352.22,239.73 355.69,237.83 359.15,235.52 362.62,233.61 366.08,235.32 369.55,232.98 373.01,232.87 376.48,228.58 379.94,226.28 383.40,226.42 386.87,228.12 390.33,225.11 393.80,222.00 397.26,218.78 400.73,213.38 404.19,202.41 407.66,190.00 411.12,178.34 414.59,166.59 418.06,156.38 421.52,148.56 424.99,142.41 428.45,127.66 431.92,111.06 435.38,102.94 438.84,99.24 442.31,95.62 445.77,97.02 449.24,95.91 452.70,91.32 456.17,81.07 459.63,74.92 463.10,78.28 466.56,64.12 470.03,328.22 470.03,328.80 466.56,65.51 463.10,79.57 459.63,76.24 456.17,82.27 452.70,92.67 449.24,97.26 445.77,98.34 442.31,96.87 438.84,100.37 435.38,104.10 431.92,112.20 428.45,128.84 424.99,143.57 421.52,149.67 418.06,157.41 414.59,167.55 411.12,179.32 407.66,190.95 404.19,203.36 400.73,214.37 397.26,219.74 393.80,222.91 390.33,226.04 386.87,228.95 383.40,227.30 379.94,227.19 376.48,229.46 373.01,233.80 369.55,233.85 366.08,236.15 362.62,234.45 359.15,236.34 355.69,238.69 352.22,240.60 348.75,244.90 345.29,249.60 341.82,252.69 338.36,256.15 334.89,259.63 331.43,261.98 327.96,265.01 324.50,265.91 321.04,266.85 317.57,267.80 314.11,271.38 310.64,274.53 307.18,276.61 303.71,280.42 300.25,282.38 296.78,284.47 293.31,286.36 289.85,288.90 286.38,292.61 282.92,294.82 279.45,296.21 275.99,296.10 272.52,298.22 269.06,301.07 265.59,303.20 262.13,305.03 258.66,304.12 255.20,300.18 251.74,302.32 248.27,304.18 244.81,308.21 241.34,311.36 237.88,313.37 234.41,314.34 230.94,315.50 227.48,316.08 224.01,316.98 220.55,317.88 217.08,319.15 213.62,320.41 210.15,321.57 206.69,321.86 203.22,322.15 199.76,322.44 196.30,322.66 192.83,322.87 189.37,321.72 185.90,320.56 182.44,321.16 178.97,321.76 175.50,322.37 172.04,322.68 168.57,322.99 165.11,323.31 161.64,323.69 158.18,324.07 154.71,324.44 151.25,324.82 147.78,325.07 144.32,325.31 140.85,325.55 137.39,325.81 133.93,326.08 130.46,326.34 126.99,326.45 123.53,326.56 120.06,326.67 116.60,326.78 113.13,326.78 109.67,326.78 106.20,326.61 102.74,326.44 99.27,326.27 95.81,326.13 92.34,325.98 88.88,326.03 85.41,326.08 81.95,326.13 78.48,326.20 75.02,326.27 71.55,326.34 68.09,328.80"/>
<polygon fill="#698ED0" points="68.09,328.80 71.55,326.34 75.02,326.27 78.48,326.20 81.95,326.13 85.41,326.08 88.88,326.03 92.34,325.98 95.81,326.13 99.27,326.27 102.74,326.44 106.20,326.61 109.67,326.78 113.13,326.78 116.60,326.78 120.06,326.67 123.53,326.56 126.99,326.45 130.46,326.34 133.93,326.08 137.39,325.81 140.85,325.55 144.32,325.31 147.78,325.07 151.25,324.82 154.71,324.44 158.18,324.07 161.64,323.69 165.11,323.31 168.57,322.99 172.04,322.68 175.50,322.37 178.97,321.76 182.44,321.16 185.90,320.56 189.37,321.72 192.83,322.87 196.30,322.66 199.76,322.44 203.22,322.15 206.69,321.86 210.15,321.57 213.62,320.41 217.08,319.15 220.55,317.88 224.01,316.98 227.48,316.08 230.94,315.50 234.41,314.34 237.88,313.19 241.34,311.16 244.81,307.98 248.27,303.93 251.74,302.05 255.20,299.89 258.66,303.79 262.13,304.66 265.59,302.78 269.06,300.61 272.52,297.72 275.99,295.55 279.45,295.63 282.92,294.24 286.38,292.04 289.85,288.32 293.31,285.78 296.78,283.49 300.25,281.35 303.71,279.31 307.18,275.57 310.64,273.43 314.11,270.26 317.57,266.71 321.04,265.56 324.50,264.74 327.96,263.92 331.43,261.16 334.89,258.83 338.36,255.33 341.82,251.61 345.29,248.30 348.75,243.48 352.22,239.23 355.69,237.32 359.15,235.07 362.62,233.10 366.08,234.81 369.55,232.35 373.01,232.08 376.48,227.88 379.94,225.50 383.40,225.67 386.87,227.45 390.33,224.15 393.80,221.05 397.26,217.65 400.73,212.13 404.19,201.22 407.66,188.81 411.12,177.01 414.59,165.25 418.06,154.80 421.52,146.60 424.99,140.19 428.45,125.30 431.92,108.77 435.38,100.53 438.84,96.90 442.31,92.71 445.77,93.69 449.24,92.35 452.70,87.67 456.17,78.01 459.63,71.17 463.10,74.60 466.56,59.88 470.03,328.22 470.03,328.80 466.56,64.70 463.10,78.85 459.63,75.49 456.17,81.64 452.70,91.90 449.24,96.49 445.77,97.60 442.31,96.20 438.84,99.82 435.38,103.52 431.92,111.63 428.45,128.24 424.99,142.99 421.52,149.14 418.06,156.96 414.59,167.16 411.12,178.92 407.66,190.58 404.19,202.99 400.73,213.96 397.26,219.35 393.80,222.58 390.33,225.69 386.87,228.70 383.40,227.00 379.94,226.86 376.48,229.16 373.01,233.44 369.55,233.56 366.08,235.90 362.62,234.19 359.15,236.10 355.69,238.41 352.22,240.31 348.75,244.58 345.29,249.32 341.82,252.49 338.36,256.15 334.89,259.63 331.43,261.98 327.96,264.79 324.50,265.65 321.04,266.52 317.57,267.56 314.11,271.12 310.64,274.27 307.18,276.38 303.71,280.15 300.25,282.14 296.78,284.26 293.31,286.36 289.85,288.90 286.38,292.61 282.92,294.82 279.45,296.21 275.99,296.10 272.52,298.22 269.06,301.07 265.59,303.20 262.13,305.03 258.66,304.12 255.20,300.18 251.74,302.32 248.27,304.18 244.81,308.21 241.34,311.36 237.88,313.37 234.41,314.34 230.94,315.50 227.48,316.08 224.01,316.98 220.55,317.88 217.08,319.15 213.62,320.41 210.15,321.57 206.69,321.86 203.22,322.15 199.76,322.44 196.30,322.66 192.83,322.87 189.37,321.72 185.90,320.56 182.44,321.16 178.97,321.76 175.50,322.37 172.04,322.68 168.57,322.99 165.11,323.31 161.64,323.69 158.18,324.07 154.71,324.44 151.25,324.82 147.78,325.07 144.32,325.31 140.85,325.55 137.39,325.81 133.93,326.08 130.46,326.34 126.99,326.45 123.53,326.56 120.06,326.67 116.60,326.78 113.13,326.78 109.67,326.78 106.20,326.61 102.74,326.44 99.27,326.27 95.81,326.13 92.34,325.98 88.88,326.03 85.41,326.08 81.95,326.13 78.48,326.20 75.02,326.27 71.55,326.34 68.09,328.80"/>
<polygon fill="#F1975A" points="68.09,328.80 71.55,326.34 75.02,326.27 78.48,326.20 81.95,326.13 85.41,326.08 88.88,326.03 92.34,325.98 95.81,326.13 99.27,326.27 102.74,326.44 106.20,326.61 109.67,326.78 113.13,326.78 116.60,326.78 120.06,326.67 123.53,326.56 126.99,326.45 130.46,326.34 133.93,326.08 137.39,325.81 140.85,325.55 144.32,325.31 147.78,325.07 151.25,324.82 154.71,324.44 158.18,324.07 161.64,323.69 165.11,323.31 168.57,322.99 172.04,322.68 175.50,322.37 178.97,321.76 182.44,321.16 185.90,320.56 189.37,321.72 192.83,322.87 196.30,322.66 199.76,322.44 203.22,322.15 206.69,321.86 210.15,321.57 213.62,320.41 217.08,319.15 220.55,317.88 224.01,316.98 227.48,316.08 230.94,315.50 234.41,314.34 237.88,313.19 241.34,311.16 244.81,307.98 248.27,303.93 251.74,302.05 255.20,299.89 258.66,303.79 262.13,304.66 265.59,302.78 269.06,300.61 272.52,297.72 275.99,295.55 279.45,295.63 282.92,294.24 286.38,292.04 289.85,288.32 293.31,285.59 296.78,283.15 300.25,280.94 303.71,278.84 307.18,275.15 310.64,272.94 314.11,269.75 317.57,266.23 321.04,264.88 324.50,264.17 327.96,263.44 331.43,260.80 334.89,258.52 338.36,255.01 341.82,251.22 345.29,247.75 348.75,242.87 352.22,238.69 355.69,236.80 359.15,234.63 362.62,232.63 366.08,234.35 369.55,231.81 373.01,231.42 376.48,227.33 379.94,224.89 383.40,225.11 386.87,226.97 390.33,223.48 393.80,220.40 397.26,216.90 400.73,211.33 404.19,200.48 407.66,188.09 411.12,176.21 414.59,164.48 418.06,153.91 421.52,145.52 424.99,138.99 428.45,124.05 431.92,107.58 435.38,99.31 438.84,95.73 442.31,91.29 445.77,92.10 449.24,90.68 452.70,85.99 456.17,76.63 459.63,69.50 463.10,73.00 466.56,58.06 470.03,328.22 470.03,328.80 466.56,60.46 463.10,75.18 459.63,71.75 456.17,78.59 452.70,88.25 449.24,92.93 445.77,94.27 442.31,93.29 438.84,97.47 435.38,101.11 431.92,109.35 428.45,125.88 424.99,140.77 421.52,147.18 418.06,155.38 414.59,165.83 411.12,177.58 407.66,189.39 404.19,201.80 400.73,212.71 397.26,218.22 393.80,221.62 390.33,224.73 386.87,228.03 383.40,226.25 379.94,226.08 376.48,228.46 373.01,232.65 369.55,232.93 366.08,235.39 362.62,233.68 359.15,235.65 355.69,237.90 352.22,239.81 348.75,244.06 345.29,248.87 341.82,252.19 338.36,255.91 334.89,259.41 331.43,261.74 327.96,264.50 324.50,265.32 321.04,266.13 317.57,267.29 314.11,270.84 310.64,274.00 307.18,276.15 303.71,279.89 300.25,281.92 296.78,284.07 293.31,286.36 289.85,288.90 286.38,292.61 282.92,294.82 279.45,296.21 275.99,296.10 272.52,298.22 269.06,301.07 265.59,303.20 262.13,305.03 258.66,304.12 255.20,300.18 251.74,302.32 248.27,304.18 244.81,308.21 241.34,311.36 237.88,313.37 234.41,314.34 230.94,315.50 227.48,316.08 224.01,316.98 220.55,317.88 217.08,319.15 213.62,320.41 210.15,321.57 206.69,321.86 203.22,322.15 199.76,322.44 196.30,322.66 192.83,322.87 189.37,321.72 185.90,320.56 182.44,321.16 178.97,321.76 175.50,322.37 172.04,322.68 168.57,322.99 165.11,323.31 161.64,323.69 158.18,324.07 154.71,324.44 151.25,324.82 147.78,325.07 144.32,325.31 140.85,325.55 137.39,325.81 133.93,326.08 130.46,326.34 126.99,326.45 123.53,326.56 120.06,326.67 116.60,326.78 113.13,326.78 109.67,326.78 106.20,326.61 102.74,326.44 99.27,326.27 95.81,326.13 92.34,325.98 88.88,326.03 85.41,326.08 81.95,326.13 78.48,326.20 75.02,326.27 71.55,326.34 68.09,328.80"/>
<polygon fill="#B7B7B7" points="68.09,328.80 71.55,326.34 75.02,326.27 78.48,326.20 81.95,326.13 85.41,326.08 88.88,326.03 92.34,325.98 95.81,326.13 99.27,326.27 102.74,326.44 106.20,326.61 109.67,326.78 113.13,326.78 116.60,326.78 120.06,326.67 123.53,326.56 126.99,326.45 130.46,326.34 133.93,326.08 137.39,325.81 140.85,325.55 144.32,325.31 147.78,325.07 151.25,324.82 154.71,324.44 158.18,324.07 161.64,323.69 165.11,323.31 168.57,322.99 172.04,322.68 175.50,322.37 178.97,321.76 182.44,321.16 185.90,320.56 189.37,321.72 192.83,322.87 196.30,322.66 199.76,322.44 203.22,322.15 206.69,321.86 210.15,321.57 213.62,320.41 217.08,319.15 220.55,317.88 224.01,316.98 227.48,316.08 230.94,315.50 234.41,314.34 237.88,313.19 241.34,311.16 244.81,307.98 248.27,303.93 251.74,302.05 255.20,299.89 258.66,303.79 262.13,304.66 265.59,302.78 269.06,300.61 272.52,297.72 275.99,295.55 279.45,295.63 282.92,294.24 286.38,292.04 289.85,288.32 293.31,285.35 296.78,282.72 300.25,280.46 303.71,278.30 307.18,274.69 310.64,272.44 314.11,269.24 317.57,265.75 321.04,264.24 324.50,263.65 327.96,263.00 331.43,260.45 334.89,258.22 338.36,254.70 341.82,250.82 345.29,247.20 348.75,242.24 352.22,238.11 355.69,236.24 359.15,234.15 362.62,232.11 366.08,233.86 369.55,231.22 373.01,230.72 376.48,226.73 379.94,224.25 383.40,224.51 386.87,226.46 390.33,222.78 393.80,219.72 397.26,216.13 400.73,210.51 404.19,199.72 407.66,187.35 411.12,175.42 414.59,163.71 418.06,153.02 421.52,144.46 424.99,137.82 428.45,122.84 431.92,106.44 435.38,98.15 438.84,94.63 442.31,89.96 445.77,90.61 449.24,89.13 452.70,84.45 456.17,75.37 459.63,68.00 463.10,71.57 466.56,56.45 470.03,328.22 470.03,328.80 466.56,58.64 463.10,73.58 459.63,70.08 456.17,77.21 452.70,86.57 449.24,91.25 445.77,92.68 442.31,91.87 438.84,96.31 435.38,99.89 431.92,108.16 428.45,124.62 424.99,139.57 421.52,146.10 418.06,154.49 414.59,165.06 411.12,176.79 407.66,188.66 404.19,201.06 400.73,211.91 397.26,217.48 393.80,220.98 390.33,224.06 386.87,227.55 383.40,225.69 379.94,225.47 376.48,227.90 373.01,232.00 369.55,232.39 366.08,234.93 362.62,233.21 359.15,235.21 355.69,237.38 352.22,239.26 348.75,243.45 345.29,248.33 341.82,251.79 338.36,255.59 334.89,259.10 331.43,261.38 327.96,264.02 324.50,264.75 321.04,265.46 317.57,266.81 314.11,270.33 310.64,273.52 307.18,275.73 303.71,279.41 300.25,281.52 296.78,283.72 293.31,286.17 289.85,288.90 286.38,292.61 282.92,294.82 279.45,296.21 275.99,296.10 272.52,298.22 269.06,301.07 265.59,303.20 262.13,305.03 258.66,304.12 255.20,300.18 251.74,302.32 248.27,304.18 244.81,308.21 241.34,311.36 237.88,313.37 234.41,314.34 230.94,315.50 227.48,316.08 224.01,316.98 220.55,317.88 217.08,319.15 213.62,320.41 210.15,321.57 206.69,321.86 203.22,322.15 199.76,322.44 196.30,322.66 192.83,322.87 189.37,321.72 185.90,320.56 182.44,321.16 178.97,321.76 175.50,322.37 172.04,322.68 168.57,322.99 165.11,323.31 161.64,323.69 158.18,324.07 154.71,324.44 151.25,324.82 147.78,325.07 144.32,325.31 140.85,325.55 137.39,325.81 133.93,326.08 130.46,326.34 126.99,326.45 123.53,326.56 120.06,326.67 116.60,326.78 113.13,326.78 109.67,326.78 106.20,326.61 102.74,326.44 99.27,326.27 95.81,326.13 92.34,325.98 88.88,326.03 85.41,326.08 81.95,326.13 78.48,326.20 75.02,326.27 71.55,326.34 68.09,328.80"/>
<polygon fill="#FFCD33" points="68.09,328.80 71.55,326.34 75.02,326.27 78.48,326.20 81.95,326.13 85.41,326.08 88.88,326.03 92.34,325.98 95.81,326.13 99.27,326.27 102.74,326.44 106.20,326.61 109.67,326.78 113.13,326.78 116.60,326.78 120.06,326.67 123.53,326.56 126.99,326.45 130.46,326.34 133.93,326.08 137.39,325.81 140.85,325.55 144.32,325.31 147.78,325.07 151.25,324.82 154.71,324.44 158.18,324.07 161.64,323.69 165.11,323.31 168.57,322.99 172.04,322.68 175.50,322.37 178.97,321.76 182.44,321.16 185.90,320.56 189.37,321.72 192.83,322.87 196.30,322.66 199.76,322.44 203.22,322.15 206.69,321.86 210.15,321.57 213.62,320.41 217.08,319.15 220.55,317.88 224.01,316.98 227.48,316.08 230.94,315.50 234.41,314.34 237.88,313.19 241.34,311.16 244.81,307.98 248.27,303.93 251.74,302.05 255.20,299.89 258.66,303.79 262.13,304.66 265.59,302.78 269.06,300.61 272.52,297.72 275.99,295.55 279.45,295.63 282.92,294.24 286.38,292.04 289.85,288.32 293.31,285.35 296.78,282.72 300.25,280.46 303.71,278.30 307.18,274.69 310.64,272.44 314.11,269.24 317.57,265.75 321.04,264.04 324.50,263.65 327.96,263.00 331.43,260.45 334.89,258.22 338.36,254.70 341.82,250.82 345.29,246.98 348.75,241.98 352.22,237.86 355.69,235.98 359.15,233.92 362.62,231.86 366.08,233.60 369.55,230.91 373.01,230.32 376.48,226.38 379.94,223.86 383.40,224.14 386.87,226.13 390.33,222.31 393.80,219.25 397.26,215.56 400.73,209.88 404.19,199.13 407.66,186.76 411.12,174.75 414.59,163.05 418.06,152.23 421.52,143.48 424.99,136.71 428.45,121.66 431.92,105.30 435.38,96.95 438.84,93.45 442.31,88.50 445.77,88.95 449.24,87.35 452.70,82.62 456.17,73.84 459.63,66.13 463.10,69.73 466.56,54.33 470.03,328.22 470.03,328.80 466.56,57.03 463.10,72.15 459.63,68.58 456.17,75.95 452.70,85.03 449.24,89.71 445.77,91.19 442.31,90.53 438.84,95.20 435.38,98.73 431.92,107.02 428.45,123.41 424.99,138.39 421.52,145.04 418.06,153.60 414.59,164.29 411.12,176.00 407.66,187.93 404.19,200.30 400.73,211.08 397.26,216.71 393.80,220.30 390.33,223.36 386.87,227.04 383.40,225.09 379.94,224.83 376.48,227.31 373.01,231.29 369.55,231.80 366.08,234.43 362.62,232.69 359.15,234.73 355.69,236.82 352.22,238.69 348.75,242.82 345.29,247.78 341.82,251.40 338.36,255.27 334.89,258.80 331.43,261.03 327.96,263.58 324.50,264.23 321.04,264.82 317.57,266.33 314.11,269.81 310.64,273.01 307.18,275.27 303.71,278.88 300.25,281.04 296.78,283.30 293.31,285.93 289.85,288.90 286.38,292.61 282.92,294.82 279.45,296.21 275.99,296.10 272.52,298.22 269.06,301.07 265.59,303.20 262.13,305.03 258.66,304.12 255.20,300.18 251.74,302.32 248.27,304.18 244.81,308.21 241.34,311.36 237.88,313.37 234.41,314.34 230.94,315.50 227.48,316.08 224.01,316.98 220.55,317.88 217.08,319.15 213.62,320.41 210.15,321.57 206.69,321.86 203.22,322.15 199.76,322.44 196.30,322.66 192.83,322.87 189.37,321.72 185.90,320.56 182.44,321.16 178.97,321.76 175.50,322.37 172.04,322.68 168.57,322.99 165.11,323.31 161.64,323.69 158.18,324.07 154.71,324.44 151.25,324.82 147.78,325.07 144.32,325.31 140.85,325.55 137.39,325.81 133.93,326.08 130.46,326.34 126.99,326.45 123.53,326.56 120.06,326.67 116.60,326.78 113.13,326.78 109.67,326.78 106.20,326.61 102.74,326.44 99.27,326.27 95.81,326.13 92.34,325.98 88.88,326.03 85.41,326.08 81.95,326.13 78.48,326.20 75.02,326.27 71.55,326.34 68.09,328.80"/>
<polygon fill="#7CAFDD" points="68.09,328.80 71.55,326.34 75.02,326.27 78.48,326.20 81.95,326.13 85.41,326.08 88.88,326.03 92.34,325.98 95.81,326.13 99.27,326.27 102.74,326.44 106.20,326.61 109.67,326.78 113.13,326.78 116.60,326.78 120.06,326.67 123.53,326.56 126.99,326.45 130.46,326.34 133.93,326.08 137.39,325.81 140.85,325.55 144.32,325.31 147.78,325.07 151.25,324.82 154.71,324.44 158.18,324.07 161.64,323.69 165.11,323.31 168.57,322.99 172.04,322.68 175.50,322.37 178.97,321.76 182.44,321.16 185.90,320.56 189.37,321.72 192.83,322.87 196.30,322.66 199.76,322.44 203.22,322.15 206.69,321.86 210.15,321.57 213.62,320.41 217.08,319.15 220.55,317.88 224.01,316.98 227.48,316.08 230.94,315.50 234.41,314.34 237.88,313.19 241.34,311.16 244.81,307.98 248.27,303.93 251.74,302.05 255.20,299.89 258.66,303.79 262.13,304.66 265.59,302.78 269.06,300.61 272.52,297.72 275.99,295.55 279.45,295.45 282.92,294.06 286.38,292.04 289.85,288.32 293.31,285.05 296.78,282.18 300.25,279.83 303.71,277.56 307.18,274.04 310.64,271.69 314.11,268.45 317.57,265.01 321.04,262.99 324.50,262.76 327.96,262.26 331.43,259.89 334.89,257.73 338.36,254.19 341.82,250.21 345.29,246.13 348.75,241.04 352.22,237.01 355.69,235.18 359.15,233.25 362.62,231.13 366.08,232.89 369.55,230.07 373.01,229.30 376.48,225.51 379.94,222.91 383.40,223.26 386.87,225.38 390.33,221.27 393.80,218.24 397.26,214.40 400.73,208.64 404.19,197.98 407.66,185.63 411.12,173.52 414.59,161.84 418.06,150.84 421.52,141.79 424.99,134.84 428.45,119.71 431.92,103.45 435.38,95.05 438.84,91.64 442.31,86.29 445.77,86.47 449.24,84.75 452.70,80.01 456.17,71.69 459.63,63.54 463.10,67.24 466.56,51.50 470.03,328.22 470.03,328.80 466.56,54.91 463.10,70.31 459.63,66.71 456.17,74.42 452.70,83.20 449.24,87.93 445.77,89.52 442.31,89.08 438.84,94.03 435.38,97.53 431.92,105.88 428.45,122.23 424.99,137.29 421.52,144.06 418.06,152.81 414.59,163.62 411.12,175.33 407.66,187.34 404.19,199.71 400.73,210.46 397.26,216.14 393.80,219.83 390.33,222.89 386.87,226.71 383.40,224.71 379.94,224.43 376.48,226.96 373.01,230.90 369.55,231.49 366.08,234.18 362.62,232.44 359.15,234.50 355.69,236.56 352.22,238.43 348.75,242.56 345.29,247.56 341.82,251.40 338.36,255.27 334.89,258.80 331.43,261.03 327.96,263.58 324.50,264.23 321.04,264.62 317.57,266.33 314.11,269.81 310.64,273.01 307.18,275.27 303.71,278.88 300.25,281.04 296.78,283.30 293.31,285.93 289.85,288.90 286.38,292.61 282.92,294.82 279.45,296.21 275.99,296.10 272.52,298.22 269.06,301.07 265.59,303.20 262.13,305.03 258.66,304.12 255.20,300.18 251.74,302.32 248.27,304.18 244.81,308.21 241.34,311.36 237.88,313.37 234.41,314.34 230.94,315.50 227.48,316.08 224.01,316.98 220.55,317.88 217.08,319.15 213.62,320.41 210.15,321.57 206.69,321.86 203.22,322.15 199.76,322.44 196.30,322.66 192.83,322.87 189.37,321.72 185.90,320.56 182.44,321.16 178.97,321.76 175.50,322.37 172.04,322.68 168.57,322.99 165.11,323.31 161.64,323.69 158.18,324.07 154.71,324.44 151.25,324.82 147.78,325.07 144.32,325.31 140.85,325.55 137.39,325.81 133.93,326.08 130.46,326.34 126.99,326.45 123.53,326.56 120.06,326.67 116.60,326.78 113.13,326.78 109.67,326.78 106.20,326.61 102.74,326.44 99.27,326.27 95.81,326.13 92.34,325.98 88.88,326.03 85.41,326.08 81.95,326.13 78.48,326.20 75.02,326.27 71.55,326.34 68.09,328.80"/>
<polygon fill="#8CC168" points="68.09,328.80 71.55,326.34 75.02,326.27 78.48,326.20 81.95,326.13 85.41,326.08 88.88,326.03 92.34,325.98 95.81,326.13 99.27,326.27 102.74,326.44 106.20,326.61 109.67,326.78 113.13,326.78 116.60,326.78 120.06,326.67 123.53,326.56 126.99,326.45 130.46,326.34 133.93,326.08 137.39,325.81 140.85,325.55 144.32,325.31 147.78,325.07 151.25,324.82 154.71,324.44 158.18,324.07 161.64,323.69 165.11,323.31 168.57,322.99 172.04,322.68 175.50,322.37 178.97,321.76 182.44,321.16 185.90,320.56 189.37,321.72 192.83,322.87 196.30,322.66 199.76,322.44 203.22,322.15 206.69,321.86 210.15,321.57 213.62,320.41 217.08,319.15 220.55,317.88 224.01,316.98 227.48,316.08 230.94,315.50 234.41,314.34 237.88,313.19 241.34,311.16 244.81,307.98 248.27,303.93 251.74,302.05 255.20,299.89 258.66,303.79 262.13,304.66 265.59,302.78 269.06,300.61 272.52,297.72 275.99,295.55 279.45,295.45 282.92,294.06 286.38,292.04 289.85,288.32 293.31,285.05 296.78,282.18 300.25,279.83 303.71,277.37 307.18,274.04 310.64,271.49 314.11,268.24 317.57,264.81 321.04,262.71 324.50,262.52 327.96,262.05 331.43,259.89 334.89,257.73 338.36,254.19 341.82,249.99 345.29,245.81 348.75,240.66 352.22,236.65 355.69,234.81 359.15,232.93 362.62,230.76 366.08,232.53 369.55,229.62 373.01,228.74 376.48,225.01 379.94,222.35 383.40,222.72 386.87,224.90 390.33,220.59 393.80,217.56 397.26,213.59 400.73,207.75 404.19,197.13 407.66,184.78 411.12,172.56 414.59,160.89 418.06,149.71 421.52,140.40 424.99,133.25 428.45,118.02 431.92,101.82 435.38,93.33 438.84,89.96 442.31,84.21 445.77,84.09 449.24,82.20 452.70,77.40 456.17,69.51 459.63,60.86 463.10,64.62 466.56,48.47 470.03,328.22 470.03,328.80 466.56,52.08 463.10,67.82 459.63,64.12 456.17,72.27 452.70,80.59 449.24,85.33 445.77,87.04 442.31,86.87 438.84,92.22 435.38,95.63 431.92,104.03 428.45,120.29 424.99,135.42 421.52,142.37 418.06,151.42 414.59,162.42 411.12,174.10 407.66,186.21 404.19,198.55 400.73,209.21 397.26,214.98 393.80,218.82 390.33,221.84 386.87,225.96 383.40,223.84 379.94,223.49 376.48,226.09 373.01,229.88 369.55,230.65 366.08,233.47 362.62,231.70 359.15,233.83 355.69,235.75 352.22,237.59 348.75,241.62 345.29,246.71 341.82,250.79 338.36,254.77 334.89,258.31 331.43,260.47 327.96,262.84 324.50,263.34 321.04,263.57 317.57,265.59 314.11,269.03 310.64,272.26 307.18,274.62 303.71,278.14 300.25,280.41 296.78,282.76 293.31,285.63 289.85,288.90 286.38,292.61 282.92,294.63 279.45,296.03 275.99,296.10 272.52,298.22 269.06,301.07 265.59,303.20 262.13,305.03 258.66,304.12 255.20,300.18 251.74,302.32 248.27,304.18 244.81,308.21 241.34,311.36 237.88,313.37 234.41,314.34 230.94,315.50 227.48,316.08 224.01,316.98 220.55,317.88 217.08,319.15 213.62,320.41 210.15,321.57 206.69,321.86 203.22,322.15 199.76,322.44 196.30,322.66 192.83,322.87 189.37,321.72 185.90,320.56 182.44,321.16 178.97,321.76 175.50,322.37 172.04,322.68 168.57,322.99 165.11,323.31 161.64,323.69 158.18,324.07 154.71,324.44 151.25,324.82 147.78,325.07 144.32,325.31 140.85,325.55 137.39,325.81 133.93,326.08 130.46,326.34 126.99,326.45 123.53,326.56 120.06,326.67 116.60,326.78 113.13,326.78 109.67,326.78 106.20,326.61 102.74,326.44 99.27,326.27 95.81,326.13 92.34,325.98 88.88,326.03 85.41,326.08 81.95,326.13 78.48,326.20 75.02,326.27 71.55,326.34 68.09,328.80"/>
<polygon fill="#FFC000" points="68.09,328.80 71.55,326.34 75.02,326.27 78.48,326.20 81.95,326.13 85.41,326.08 88.88,326.03 92.34,325.98 95.81,326.13 99.27,326.27 102.74,326.44 106.20,326.61 109.67,326.78 113.13,326.78 116.60,326.78 120.06,326.67 123.53,326.56 126.99,326.45 130.46,326.34 133.93,326.08 137.39,325.81 140.85,325.55 144.32,325.31 147.78,325.07 151.25,324.82 154.71,324.44 158.18,324.07 161.64,323.69 165.11,323.31 168.57,322.99 172.04,322.68 175.50,322.37 178.97,321.76 182.44,321.16 185.90,320.56 189.37,321.72 192.83,322.87 196.30,322.66 199.76,322.44 203.22,322.15 206.69,321.86 210.15,321.57 213.62,320.41 217.08,319.15 220.55,317.88 224.01,316.98 227.48,316.08 230.94,315.50 234.41,314.34 237.88,313.19 241.34,311.16 244.81,307.98 248.27,303.93 251.74,302.05 255.20,299.89 258.66,303.79 262.13,304.66 265.59,302.78 269.06,300.61 272.52,297.72 275.99,295.55 279.45,295.26 282.92,293.81 286.38,291.93 289.85,288.18 293.31,284.33 296.78,281.46 300.25,279.11 303.71,276.65 307.18,273.31 310.64,270.80 314.11,267.58 317.57,264.17 321.04,262.11 324.50,261.95 327.96,261.47 331.43,259.31 334.89,257.15 338.36,253.62 341.82,249.41 345.29,245.24 348.75,240.08 352.22,236.07 355.69,234.23 359.15,232.42 362.62,222.38 366.08,231.95 369.55,229.03 373.01,228.12 376.48,224.38 379.94,221.70 383.40,222.06 386.87,224.22 390.33,219.88 393.80,216.84 397.26,212.83 400.73,206.94 404.19,196.28 407.66,183.88 411.12,171.62 414.59,159.91 418.06,148.68 421.52,139.33 424.99,132.14 428.45,116.87 431.92,100.65 435.38,92.15 438.84,88.77 442.31,83.00 445.77,82.86 449.24,80.97 452.70,76.15 456.17,68.25 459.63,59.59 463.10,63.33 466.56,47.17 470.03,327.50 470.03,328.80 466.56,49.05 463.10,65.20 459.63,61.44 456.17,70.09 452.70,77.98 449.24,82.78 445.77,84.67 442.31,84.79 438.84,90.54 435.38,93.91 431.92,102.40 428.45,118.60 424.99,133.83 421.52,140.97 418.06,150.29 414.59,161.47 411.12,173.14 407.66,185.36 404.19,197.71 400.73,208.32 397.26,214.17 393.80,218.14 390.33,221.16 386.87,225.48 383.40,223.30 379.94,222.93 376.48,225.59 373.01,229.32 369.55,230.20 366.08,233.11 362.62,231.34 359.15,233.50 355.69,235.39 352.22,237.23 348.75,241.24 345.29,246.39 341.82,250.57 338.36,254.77 334.89,258.31 331.43,260.47 327.96,262.63 324.50,263.10 321.04,263.29 317.57,265.39 314.11,268.82 310.64,272.07 307.18,274.62 303.71,277.95 300.25,280.41 296.78,282.76 293.31,285.63 289.85,288.90 286.38,292.61 282.92,294.63 279.45,296.03 275.99,296.10 272.52,298.22 269.06,301.07 265.59,303.20 262.13,305.03 258.66,304.12 255.20,300.18 251.74,302.32 248.27,304.18 244.81,308.21 241.34,311.36 237.88,313.37 234.41,314.34 230.94,315.50 227.48,316.08 224.01,316.98 220.55,317.88 217.08,319.15 213.62,320.41 210.15,321.57 206.69,321.86 203.22,322.15 199.76,322.44 196.30,322.66 192.83,322.87 189.37,321.72 185.90,320.56 182.44,321.16 178.97,321.76 175.50,322.37 172.04,322.68 168.57,322.99 165.11,323.31 161.64,323.69 158.18,324.07 154.71,324.44 151.25,324.82 147.78,325.07 144.32,325.31 140.85,325.55 137.39,325.81 133.93,326.08 130.46,326.34 126.99,326.45 123.53,326.56 120.06,326.67 116.60,326.78 113.13,326.78 109.67,326.78 106.20,326.61 102.74,326.44 99.27,326.27 95.81,326.13 92.34,325.98 88.88,326.03 85.41,326.08 81.95,326.13 78.48,326.20 75.02,326.27 71.55,326.34 68.09,328.80"/>
<polygon fill="#335AA1" points="68.09,328.80 71.55,326.34 75.02,326.27 78.48,326.20 81.95,326.13 85.41,326.08 88.88,326.03 92.34,325.98 95.81,326.13 99.27,326.27 102.74,326.44 106.20,326.61 109.67,326.78 113.13,326.78 116.60,326.78 120.06,326.67 123.53,326.56 126.99,326.45 130.46,326.34 133.93,326.08 137.39,325.81 140.85,325.55 144.32,325.31 147.78,325.07 151.25,324.82 154.71,324.44 158.18,324.07 161.64,323.69 165.11,323.31 168.57,322.99 172.04,322.68 175.50,322.37 178.97,321.76 182.44,321.16 185.90,320.56 189.37,321.72 192.83,322.87 196.30,322.66 199.76,322.44 203.22,322.15 206.69,321.86 210.15,321.57 213.62,320.41 217.08,319.15 220.55,317.88 224.01,316.98 227.48,316.08 230.94,315.50 234.41,314.34 237.88,313.19 241.34,311.16 244.81,307.98 248.27,303.93 251.74,302.05 255.20,299.89 258.66,303.79 262.13,304.66 265.59,302.78 269.06,300.61 272.52,297.72 275.99,295.55 279.45,295.26 282.92,293.81 286.38,291.93 289.85,288.18 293.31,284.09 296.78,281.03 300.25,278.63 303.71,276.11 307.18,272.85 310.64,270.29 314.11,267.06 317.57,263.70 321.04,261.46 324.50,261.42 327.96,261.03 331.43,258.97 334.89,256.85 338.36,253.30 341.82,249.02 345.29,244.68 348.75,239.46 352.22,235.49 355.69,233.67 359.15,231.94 362.62,221.86 366.08,231.45 369.55,228.44 373.01,227.42 376.48,223.78 379.94,221.06 383.40,221.46 386.87,223.71 390.33,219.18 393.80,216.16 397.26,212.06 400.73,206.11 404.19,195.52 407.66,183.15 411.12,170.83 414.59,159.14 418.06,147.80 421.52,138.26 424.99,130.97 428.45,115.66 431.92,99.51 435.38,90.99 438.84,87.66 442.31,81.66 445.77,81.38 449.24,79.42 452.70,74.61 456.17,66.99 459.63,58.08 463.10,61.90 466.56,45.56 470.03,327.50 470.03,327.50 466.56,47.75 463.10,63.91 459.63,60.17 456.17,68.83 452.70,76.73 449.24,81.55 445.77,83.44 442.31,83.58 438.84,89.35 435.38,92.73 431.92,101.23 428.45,117.44 424.99,132.72 421.52,139.90 418.06,149.26 414.59,160.49 411.12,172.20 407.66,184.46 404.19,196.85 400.73,207.51 397.26,213.41 393.80,217.42 390.33,220.46 386.87,224.79 383.40,222.63 379.94,222.28 376.48,224.96 373.01,228.70 369.55,229.60 366.08,232.53 362.62,222.96 359.15,233.00 355.69,234.81 352.22,236.65 348.75,240.66 345.29,245.81 341.82,249.99 338.36,254.19 334.89,257.73 331.43,259.89 327.96,262.05 324.50,262.52 321.04,262.68 317.57,264.75 314.11,268.16 310.64,271.38 307.18,273.89 303.71,277.23 300.25,279.69 296.78,282.03 293.31,284.91 289.85,288.18 286.38,291.93 282.92,294.00 279.45,295.44 275.99,295.55 272.52,297.72 269.06,300.61 265.59,302.78 262.13,304.66 258.66,303.79 255.20,299.89 251.74,302.05 248.27,303.93 244.81,307.98 241.34,311.16 237.88,313.19 234.41,314.34 230.94,315.50 227.48,316.08 224.01,316.98 220.55,317.88 217.08,319.15 213.62,320.41 210.15,321.57 206.69,321.86 203.22,322.15 199.76,322.44 196.30,322.66 192.83,322.87 189.37,321.72 185.90,320.56 182.44,321.16 178.97,321.76 175.50,322.37 172.04,322.68 168.57,322.99 165.11,323.31 161.64,323.69 158.18,324.07 154.71,324.44 151.25,324.82 147.78,325.07 144.32,325.31 140.85,325.55 137.39,325.81 133.93,326.08 130.46,326.34 126.99,326.45 123.53,326.56 120.06,326.67 116.60,326.78 113.13,326.78 109.67,326.78 106.20,326.61 102.74,326.44 99.27,326.27 95.81,326.13 92.34,325.98 88.88,326.03 85.41,326.08 81.95,326.13 78.48,326.20 75.02,326.27 71.55,326.34 68.09,328.80"/>
<polygon fill="#D26012" points="68.09,328.80 71.55,326.34 75.02,326.27 78.48,326.20 81.95,326.13 85.41,326.08 88.88,326.03 92.34,325.98 95.81,326.13 99.27,326.27 102.74,326.44 106.20,326.61 109.67,326.78 113.13,326.78 116.60,326.78 120.06,326.67 123.53,326.56 126.99,326.45 130.46,326.34 133.93,326.08 137.39,325.81 140.85,325.55 144.32,325.31 147.78,325.07 151.25,324.82 154.71,324.44 158.18,324.07 161.64,323.69 165.11,323.31 168.57,322.99 172.04,322.68 175.50,322.37 178.97,321.76 182.44,321.16 185.90,320.56 189.37,321.72 192.83,322.87 196.30,322.66 199.76,322.44 203.22,322.15 206.69,321.86 210.15,321.57 213.62,320.41 217.08,319.15 220.55,317.88 224.01,316.98 227.48,316.08 230.94,315.50 234.41,314.34 237.88,313.19 241.34,311.16 244.81,307.98 248.27,303.93 251.74,302.05 255.20,299.89 258.66,303.79 262.13,304.66 265.59,302.78 269.06,300.61 272.52,297.72 275.99,295.55 279.45,295.26 282.92,293.81 286.38,291.93 289.85,288.18 293.31,284.09 296.78,281.03 300.25,278.63 303.71,276.11 307.18,272.85 310.64,270.29 314.11,267.06 317.57,263.70 321.04,261.27 324.50,261.42 327.96,261.03 331.43,258.97 334.89,256.85 338.36,253.30 341.82,249.02 345.29,244.46 348.75,239.19 352.22,235.24 355.69,233.41 359.15,231.71 362.62,221.60 366.08,231.20 369.55,228.12 373.01,227.02 376.48,223.43 379.94,220.66 383.40,221.08 386.87,223.37 390.33,218.70 393.80,215.69 397.26,211.49 400.73,205.49 404.19,194.93 407.66,182.55 411.12,170.16 414.59,158.47 418.06,147.01 421.52,137.28 424.99,129.86 428.45,114.48 431.92,98.37 435.38,89.79 438.84,86.49 442.31,80.21 445.77,79.71 449.24,77.64 452.70,72.78 456.17,65.46 459.63,56.21 463.10,60.06 466.56,43.44 470.03,327.50 470.03,327.50 466.56,46.13 463.10,62.48 459.63,58.66 456.17,67.57 452.70,75.19 449.24,80.00 445.77,81.96 442.31,82.24 438.84,88.24 435.38,91.57 431.92,100.09 428.45,116.23 424.99,131.55 421.52,138.84 418.06,148.38 414.59,159.72 411.12,171.41 407.66,183.73 404.19,196.10 400.73,206.69 397.26,212.63 393.80,216.74 390.33,219.76 386.87,224.29 383.40,222.04 379.94,221.63 376.48,224.36 373.01,228.00 369.55,229.02 366.08,232.03 362.62,222.44 359.15,232.52 355.69,234.25 352.22,236.07 348.75,240.03 345.29,245.26 341.82,249.60 338.36,253.88 334.89,257.43 331.43,259.54 327.96,261.61 324.50,262.00 321.04,262.04 317.57,264.28 314.11,267.64 310.64,270.87 307.18,273.43 303.71,276.69 300.25,279.21 296.78,281.61 293.31,284.67 289.85,288.18 286.38,291.93 282.92,294.00 279.45,295.44 275.99,295.55 272.52,297.72 269.06,300.61 265.59,302.78 262.13,304.66 258.66,303.79 255.20,299.89 251.74,302.05 248.27,303.93 244.81,307.98 241.34,311.16 237.88,313.19 234.41,314.34 230.94,315.50 227.48,316.08 224.01,316.98 220.55,317.88 217.08,319.15 213.62,320.41 210.15,321.57 206.69,321.86 203.22,322.15 199.76,322.44 196.30,322.66 192.83,322.87 189.37,321.72 185.90,320.56 182.44,321.16 178.97,321.76 175.50,322.37 172.04,322.68 168.57,322.99 165.11,323.31 161.64,323.69 158.18,324.07 154.71,324.44 151.25,324.82 147.78,325.07 144.32,325.31 140.85,325.55 137.39,325.81 133.93,326.08 130.46,326.34 126.99,326.45 123.53,326.56 120.06,326.67 116.60,326.78 113.13,326.78 109.67,326.78 106.20,326.61 102.74,326.44 99.27,326.27 95.81,326.13 92.34,325.98 88.88,326.03 85.41,326.08 81.95,326.13 78.48,326.20 75.02,326.27 71.55,326.34 68.09,328.80"/>
<polygon fill="#848484" points="68.09,328.80 71.55,326.34 75.02,326.27 78.48,326.20 81.95,326.13 85.41,326.08 88.88,326.03 92.34,325.98 95.81,326.13 99.27,326.27 102.74,326.44 106.20,326.61 109.67,326.78 113.13,326.78 116.60,326.78 120.06,326.67 123.53,326.56 126.99,326.45 130.46,326.34 133.93,326.08 137.39,325.81 140.85,325.55 144.32,325.31 147.78,325.07 151.25,324.82 154.71,324.44 158.18,324.07 161.64,323.69 165.11,323.31 168.57,322.99 172.04,322.68 175.50,322.37 178.97,321.76 182.44,321.16 185.90,320.56 189.37,321.72 192.83,322.87 196.30,322.66 199.76,322.44 203.22,322.15 206.69,321.86 210.15,321.57 213.62,320.41 217.08,319.15 220.55,317.88 224.01,316.98 227.48,316.08 230.94,315.50 234.41,314.34 237.88,313.19 241.34,311.16 244.81,307.98 248.27,303.93 251.74,302.05 255.20,299.89 258.66,303.79 262.13,304.66 265.59,302.78 269.06,300.61 272.52,297.72 275.99,295.55 279.45,295.26 282.92,293.81 286.38,291.93 289.85,288.18 293.31,283.98 296.78,280.61 300.25,278.13 303.71,275.53 307.18,272.34 310.64,269.70 314.11,266.45 317.57,263.12 321.04,260.44 324.50,260.73 327.96,260.45 331.43,258.52 334.89,256.47 338.36,252.91 341.82,248.54 345.29,243.80 348.75,238.45 352.22,234.58 355.69,232.78 359.15,231.18 362.62,221.03 366.08,230.64 369.55,227.47 373.01,226.22 376.48,222.75 379.94,219.92 383.40,220.40 386.87,222.79 390.33,217.89 393.80,214.90 397.26,210.58 400.73,204.51 404.19,194.02 407.66,181.67 411.12,169.19 414.59,157.53 418.06,145.91 421.52,135.96 424.99,128.39 428.45,112.95 431.92,96.92 435.38,88.30 438.84,85.06 442.31,78.47 445.77,77.77 449.24,75.60 452.70,70.73 456.17,63.77 459.63,54.18 463.10,58.10 466.56,41.22 470.03,327.50 470.03,327.50 466.56,44.01 463.10,60.64 459.63,56.79 456.17,66.04 452.70,73.36 449.24,78.22 445.77,80.29 442.31,80.79 438.84,87.07 435.38,90.37 431.92,98.95 428.45,115.05 424.99,130.44 421.52,137.86 418.06,147.59 414.59,159.05 411.12,170.74 407.66,183.13 404.19,195.51 400.73,206.07 397.26,212.07 393.80,216.27 390.33,219.28 386.87,223.95 383.40,221.66 379.94,221.24 376.48,224.01 373.01,227.60 369.55,228.70 366.08,231.78 362.62,222.18 359.15,232.29 355.69,233.99 352.22,235.82 348.75,239.77 345.29,245.04 341.82,249.60 338.36,253.88 334.89,257.43 331.43,259.54 327.96,261.61 324.50,262.00 321.04,261.85 317.57,264.28 314.11,267.64 310.64,270.87 307.18,273.43 303.71,276.69 300.25,279.21 296.78,281.61 293.31,284.67 289.85,288.18 286.38,291.93 282.92,294.00 279.45,295.44 275.99,295.55 272.52,297.72 269.06,300.61 265.59,302.78 262.13,304.66 258.66,303.79 255.20,299.89 251.74,302.05 248.27,303.93 244.81,307.98 241.34,311.16 237.88,313.19 234.41,314.34 230.94,315.50 227.48,316.08 224.01,316.98 220.55,317.88 217.08,319.15 213.62,320.41 210.15,321.57 206.69,321.86 203.22,322.15 199.76,322.44 196.30,322.66 192.83,322.87 189.37,321.72 185.90,320.56 182.44,321.16 178.97,321.76 175.50,322.37 172.04,322.68 168.57,322.99 165.11,323.31 161.64,323.69 158.18,324.07 154.71,324.44 151.25,324.82 147.78,325.07 144.32,325.31 140.85,325.55 137.39,325.81 133.93,326.08 130.46,326.34 126.99,326.45 123.53,326.56 120.06,326.67 116.60,326.78 113.13,326.78 109.67,326.78 106.20,326.61 102.74,326.44 99.27,326.27 95.81,326.13 92.34,325.98 88.88,326.03 85.41,326.08 81.95,326.13 78.48,326.20 75.02,326.27 71.55,326.34 68.09,328.80"/>
<polygon fill="#CC9A00" points="68.09,328.80 71.55,326.34 75.02,326.27 78.48,326.20 81.95,326.13 85.41,326.08 88.88,326.03 92.34,325.98 95.81,326.13 99.27,326.27 102.74,326.44 106.20,326.61 109.67,326.78 113.13,326.78 116.60,326.78 120.06,326.67 123.53,326.56 126.99,326.45 130.46,326.34 133.93,326.08 137.39,325.81 140.85,325.55 144.32,325.31 147.78,325.07 151.25,324.82 154.71,324.44 158.18,324.07 161.64,323.69 165.11,323.31 168.57,322.99 172.04,322.68 175.50,322.37 178.97,321.76 182.44,321.16 185.90,320.56 189.37,321.72 192.83,322.87 196.30,322.66 199.76,322.44 203.22,322.15 206.69,321.86 210.15,321.57 213.62,320.41 217.08,319.15 220.55,317.88 224.01,316.98 227.48,316.08 230.94,315.50 234.41,314.34 237.88,313.19 241.34,311.16 244.81,307.98 248.27,303.93 251.74,302.05 255.20,299.89 258.66,303.79 262.13,304.66 265.59,302.78 269.06,300.61 272.52,297.72 275.99,295.55 279.45,295.26 282.92,293.81 286.38,291.93 289.85,288.18 293.31,283.98 296.78,280.39 300.25,277.89 303.71,275.26 307.18,272.11 310.64,269.45 314.11,266.19 317.57,262.88 321.04,260.12 324.50,260.47 327.96,260.23 331.43,258.52 334.89,256.47 338.36,252.91 341.82,248.34 345.29,243.52 348.75,238.14 352.22,234.29 355.69,232.50 359.15,230.94 362.62,220.77 366.08,230.39 369.55,227.17 373.01,225.87 376.48,222.45 379.94,219.60 383.40,220.10 386.87,222.53 390.33,217.54 393.80,214.56 397.26,210.19 400.73,204.10 404.19,193.64 407.66,181.30 411.12,168.80 414.59,157.15 418.06,145.47 421.52,135.43 424.99,127.81 428.45,112.34 431.92,96.35 435.38,87.71 438.84,84.51 442.31,77.80 445.77,77.02 449.24,74.83 452.70,69.96 456.17,63.14 459.63,53.43 463.10,57.39 466.56,40.41 470.03,327.50 470.03,327.50 466.56,41.79 463.10,58.68 459.63,54.76 456.17,64.35 452.70,71.31 449.24,76.18 445.77,78.34 442.31,79.05 438.84,85.64 435.38,88.87 431.92,97.50 428.45,113.52 424.99,128.97 421.52,136.54 418.06,146.49 414.59,158.11 411.12,169.77 407.66,182.24 404.19,194.60 400.73,205.09 397.26,211.16 393.80,215.47 390.33,218.46 386.87,223.36 383.40,220.97 379.94,220.50 376.48,223.33 373.01,226.80 369.55,228.04 366.08,231.22 362.62,221.61 359.15,231.76 355.69,233.36 352.22,235.15 348.75,239.03 345.29,244.38 341.82,249.12 338.36,253.49 334.89,257.05 331.43,259.10 327.96,261.03 324.50,261.31 321.04,261.02 317.57,263.69 314.11,267.02 310.64,270.28 307.18,272.92 303.71,276.11 300.25,278.71 296.78,281.18 293.31,284.44 289.85,288.18 286.38,291.93 282.92,294.00 279.45,295.44 275.99,295.55 272.52,297.72 269.06,300.61 265.59,302.78 262.13,304.66 258.66,303.79 255.20,299.89 251.74,302.05 248.27,303.93 244.81,307.98 241.34,311.16 237.88,313.19 234.41,314.34 230.94,315.50 227.48,316.08 224.01,316.98 220.55,317.88 217.08,319.15 213.62,320.41 210.15,321.57 206.69,321.86 203.22,322.15 199.76,322.44 196.30,322.66 192.83,322.87 189.37,321.72 185.90,320.56 182.44,321.16 178.97,321.76 175.50,322.37 172.04,322.68 168.57,322.99 165.11,323.31 161.64,323.69 158.18,324.07 154.71,324.44 151.25,324.82 147.78,325.07 144.32,325.31 140.85,325.55 137.39,325.81 133.93,326.08 130.46,326.34 126.99,326.45 123.53,326.56 120.06,326.67 116.60,326.78 113.13,326.78 109.67,326.78 106.20,326.61 102.74,326.44 99.27,326.27 95.81,326.13 92.34,325.98 88.88,326.03 85.41,326.08 81.95,326.13 78.48,326.20 75.02,326.27 71.55,326.34 68.09,328.80"/>
<polygon fill="#4A88C3" points="68.09,328.80 71.55,326.34 75.02,326.27 78.48,326.20 81.95,326.13 85.41,326.08 88.88,326.03 92.34,325.98 95.81,326.13 99.27,326.27 102.74,326.44 106.20,326.61 109.67,326.78 113.13,326.78 116.60,326.78 120.06,326.67 123.53,326.56 126.99,326.45 130.46,326.34 133.93,326.08 137.39,325.81 140.85,325.55 144.32,325.31 147.78,325.07 151.25,324.82 154.71,324.44 158.18,324.07 161.64,323.69 165.11,323.31 168.57,322.99 172.04,322.68 175.50,322.37 178.97,321.76 182.44,321.16 185.90,320.56 189.37,321.72 192.83,322.87 196.30,322.66 199.76,322.44 203.22,322.15 206.69,321.86 210.15,321.57 213.62,320.41 217.08,319.15 220.55,317.88 224.01,316.98 227.48,316.08 230.94,315.50 234.41,314.34 237.88,313.19 241.34,311.16 244.81,307.98 248.27,303.93 251.74,302.05 255.20,299.89 258.66,303.79 262.13,304.66 265.59,302.78 269.06,300.61 272.52,297.72 275.99,295.55 279.45,295.26 282.92,293.81 286.38,291.93 289.85,288.18 293.31,283.98 296.78,280.39 300.25,277.69 303.71,275.02 307.18,271.90 310.64,269.20 314.11,265.92 317.57,262.62 321.04,259.76 324.50,260.16 327.96,259.96 331.43,258.30 334.89,256.27 338.36,252.69 341.82,248.06 345.29,243.11 348.75,237.65 352.22,233.82 355.69,232.02 359.15,230.52 362.62,220.30 366.08,229.92 369.55,226.59 373.01,225.14 376.48,221.80 379.94,218.87 383.40,219.40 386.87,221.91 390.33,216.65 393.80,213.68 397.26,209.14 400.73,202.94 404.19,192.54 407.66,180.19 411.12,167.56 414.59,155.91 418.06,144.00 421.52,133.61 424.99,125.75 428.45,110.15 431.92,94.22 435.38,85.48 438.84,82.34 442.31,75.10 445.77,73.93 449.24,71.52 452.70,66.57 456.17,60.31 459.63,49.95 463.10,53.98 466.56,36.47 470.03,327.50 470.03,327.50 466.56,40.99 463.10,57.97 459.63,54.00 456.17,63.72 452.70,70.54 449.24,75.41 445.77,77.60 442.31,78.38 438.84,85.09 435.38,88.29 431.92,96.93 428.45,112.92 424.99,128.39 421.52,136.01 418.06,146.05 414.59,157.72 411.12,169.37 407.66,181.88 404.19,194.22 400.73,204.68 397.26,210.77 393.80,215.14 390.33,218.11 386.87,223.11 383.40,220.68 379.94,220.18 376.48,223.03 373.01,226.45 369.55,227.75 366.08,230.97 362.62,221.35 359.15,231.52 355.69,233.08 352.22,234.86 348.75,238.72 345.29,244.10 341.82,248.92 338.36,253.49 334.89,257.05 331.43,259.10 327.96,260.81 324.50,261.04 321.04,260.70 317.57,263.46 314.11,266.77 310.64,270.02 307.18,272.69 303.71,275.84 300.25,278.47 296.78,280.97 293.31,284.44 289.85,288.18 286.38,291.93 282.92,294.00 279.45,295.44 275.99,295.55 272.52,297.72 269.06,300.61 265.59,302.78 262.13,304.66 258.66,303.79 255.20,299.89 251.74,302.05 248.27,303.93 244.81,307.98 241.34,311.16 237.88,313.19 234.41,314.34 230.94,315.50 227.48,316.08 224.01,316.98 220.55,317.88 217.08,319.15 213.62,320.41 210.15,321.57 206.69,321.86 203.22,322.15 199.76,322.44 196.30,322.66 192.83,322.87 189.37,321.72 185.90,320.56 182.44,321.16 178.97,321.76 175.50,322.37 172.04,322.68 168.57,322.99 165.11,323.31 161.64,323.69 158.18,324.07 154.71,324.44 151.25,324.82 147.78,325.07 144.32,325.31 140.85,325.55 137.39,325.81 133.93,326.08 130.46,326.34 126.99,326.45 123.53,326.56 120.06,326.67 116.60,326.78 113.13,326.78 109.67,326.78 106.20,326.61 102.74,326.44 99.27,326.27 95.81,326.13 92.34,325.98 88.88,326.03 85.41,326.08 81.95,326.13 78.48,326.20 75.02,326.27 71.55,326.34 68.09,328.80"/>
<polygon fill="#5A8A39" points="68.09,328.80 71.55,326.34 75.02,326.27 78.48,326.20 81.95,326.13 85.41,326.08 88.88,326.03 92.34,325.98 95.81,326.13 99.27,326.27 102.74,326.44 106.20,326.61 109.67,326.78 113.13,326.78 116.60,326.78 120.06,326.67 123.53,326.56 126.99,326.45 130.46,326.34 133.93,326.08 137.39,325.81 140.85,325.55 144.32,325.31 147.78,325.07 151.25,324.82 154.71,324.44 158.18,324.07 161.64,323.69 165.11,323.31 168.57,322.99 172.04,322.68 175.50,322.37 178.97,321.76 182.44,321.16 185.90,320.56 189.37,321.72 192.83,322.87 196.30,322.66 199.76,322.44 203.22,322.15 206.69,321.86 210.15,321.57 213.62,320.41 217.08,319.15 220.55,317.88 224.01,316.98 227.48,316.08 230.94,315.50 234.41,314.34 237.88,313.19 241.34,311.16 244.81,307.98 248.27,303.93 251.74,302.05 255.20,299.89 258.66,303.79 262.13,304.66 265.59,302.78 269.06,300.61 272.52,297.72 275.99,295.55 279.45,295.26 282.92,293.81 286.38,291.93 289.85,288.18 293.31,283.98 296.78,280.05 300.25,277.28 303.71,274.55 307.18,271.48 310.64,268.71 314.11,265.42 317.57,262.14 321.04,259.08 324.50,259.59 327.96,259.48 331.43,257.94 334.89,255.95 338.36,252.37 341.82,247.67 345.29,242.56 348.75,237.04 352.22,233.27 355.69,231.50 359.15,230.09 362.62,219.83 366.08,229.47 369.55,226.05 373.01,224.48 376.48,221.24 379.94,218.27 383.40,218.84 386.87,221.43 390.33,215.98 393.80,213.03 397.26,208.40 400.73,202.14 404.19,191.80 407.66,179.47 411.12,166.76 414.59,155.14 418.06,143.11 421.52,132.53 424.99,124.55 428.45,108.90 431.92,93.04 435.38,84.26 438.84,81.17 442.31,73.68 445.77,72.34 449.24,69.85 452.70,64.89 456.17,58.92 459.63,48.28 463.10,52.38 466.56,34.65 470.03,327.50 470.03,327.50 466.56,37.05 463.10,54.56 459.63,50.52 456.17,60.88 452.70,67.14 449.24,72.10 445.77,74.51 442.31,75.68 438.84,82.91 435.38,86.06 431.92,94.80 428.45,110.73 424.99,126.32 421.52,134.19 418.06,144.58 414.59,156.49 411.12,168.13 407.66,180.77 404.19,193.12 400.73,203.52 397.26,209.72 393.80,214.25 390.33,217.23 386.87,222.49 383.40,219.98 379.94,219.45 376.48,222.38 373.01,225.71 369.55,227.17 366.08,230.50 362.62,220.88 359.15,231.10 355.69,232.60 352.22,234.40 348.75,238.23 345.29,243.68 341.82,248.64 338.36,253.27 334.89,256.84 331.43,258.88 327.96,260.54 324.50,260.74 321.04,260.34 317.57,263.20 314.11,266.50 310.64,269.77 307.18,272.47 303.71,275.60 300.25,278.27 296.78,280.97 293.31,284.44 289.85,288.18 286.38,291.93 282.92,294.00 279.45,295.44 275.99,295.55 272.52,297.72 269.06,300.61 265.59,302.78 262.13,304.66 258.66,303.79 255.20,299.89 251.74,302.05 248.27,303.93 244.81,307.98 241.34,311.16 237.88,313.19 234.41,314.34 230.94,315.50 227.48,316.08 224.01,316.98 220.55,317.88 217.08,319.15 213.62,320.41 210.15,321.57 206.69,321.86 203.22,322.15 199.76,322.44 196.30,322.66 192.83,322.87 189.37,321.72 185.90,320.56 182.44,321.16 178.97,321.76 175.50,322.37 172.04,322.68 168.57,322.99 165.11,323.31 161.64,323.69 158.18,324.07 154.71,324.44 151.25,324.82 147.78,325.07 144.32,325.31 140.85,325.55 137.39,325.81 133.93,326.08 130.46,326.34 126.99,326.45 123.53,326.56 120.06,326.67 116.60,326.78 113.13,326.78 109.67,326.78 106.20,326.61 102.74,326.44 99.27,326.27 95.81,326.13 92.34,325.98 88.88,326.03 85.41,326.08 81.95,326.13 78.48,326.20 75.02,326.27 71.55,326.34 68.09,328.80"/>
<polygon fill="#8FAADC" points="68.09,328.80 71.55,326.34 75.02,326.27 78.48,326.20 81.95,326.13 85.41,326.08 88.88,326.03 92.34,325.98 95.81,326.13 99.27,326.27 102.74,326.44 106.20,326.61 109.67,326.78 113.13,326.78 116.60,326.78 120.06,326.67 123.53,326.56 126.99,326.45 130.46,326.34 133.93,326.08 137.39,325.81 140.85,325.55 144.32,325.31 147.78,325.07 151.25,324.82 154.71,324.44 158.18,324.07 161.64,323.69 165.11,323.31 168.57,322.99 172.04,322.68 175.50,322.37 178.97,321.76 182.44,321.16 185.90,320.56 189.37,321.72 192.83,322.87 196.30,322.66 199.76,322.44 203.22,322.15 206.69,321.86 210.15,321.57 213.62,320.41 217.08,319.15 220.55,317.88 224.01,316.98 227.48,316.08 230.94,315.50 234.41,314.34 237.88,313.19 241.34,311.16 244.81,307.98 248.27,303.93 251.74,302.05 255.20,299.89 258.66,303.79 262.13,304.66 265.59,302.78 269.06,300.61 272.52,297.72 275.99,295.55 279.45,295.26 282.92,293.81 286.38,291.93 289.85,288.18 293.31,283.98 296.78,279.65 300.25,276.77 303.71,273.96 307.18,270.98 310.64,268.16 314.11,264.86 317.57,261.63 321.04,258.39 324.50,259.02 327.96,259.01 331.43,257.67 334.89,255.79 338.36,252.18 341.82,247.24 345.29,241.97 348.75,236.36 352.22,232.65 355.69,230.89 359.15,229.56 362.62,219.26 366.08,228.93 369.55,225.41 373.01,223.72 376.48,220.59 379.94,217.57 383.40,218.19 386.87,220.88 390.33,215.22 393.80,212.30 397.26,207.56 400.73,201.25 404.19,190.98 407.66,178.67 411.12,165.90 414.59,154.30 418.06,142.15 421.52,131.38 424.99,123.28 428.45,107.59 431.92,91.80 435.38,83.00 438.84,79.97 442.31,72.23 445.77,70.73 449.24,68.17 452.70,63.21 456.17,57.56 459.63,46.65 463.10,50.82 466.56,32.90 470.03,327.50 470.03,327.50 466.56,35.23 463.10,52.95 459.63,48.86 456.17,59.50 452.70,65.46 449.24,70.43 445.77,72.91 442.31,74.26 438.84,81.75 435.38,84.84 431.92,93.62 428.45,109.48 424.99,125.12 421.52,133.11 418.06,143.69 414.59,155.71 411.12,167.34 407.66,180.04 404.19,192.38 400.73,202.72 397.26,208.97 393.80,213.61 390.33,216.56 386.87,222.01 383.40,219.42 379.94,218.85 376.48,221.82 373.01,225.06 369.55,226.63 366.08,230.04 362.62,220.41 359.15,230.66 355.69,232.08 352.22,233.85 348.75,237.62 345.29,243.14 341.82,248.24 338.36,252.94 334.89,256.53 331.43,258.52 327.96,260.06 324.50,260.17 321.04,259.66 317.57,262.72 314.11,265.99 310.64,269.29 307.18,272.06 303.71,275.12 300.25,277.86 296.78,280.62 293.31,284.25 289.85,288.18 286.38,291.93 282.92,294.00 279.45,295.44 275.99,295.55 272.52,297.72 269.06,300.61 265.59,302.78 262.13,304.66 258.66,303.79 255.20,299.89 251.74,302.05 248.27,303.93 244.81,307.98 241.34,311.16 237.88,313.19 234.41,314.34 230.94,315.50 227.48,316.08 224.01,316.98 220.55,317.88 217.08,319.15 213.62,320.41 210.15,321.57 206.69,321.86 203.22,322.15 199.76,322.44 196.30,322.66 192.83,322.87 189.37,321.72 185.90,320.56 182.44,321.16 178.97,321.76 175.50,322.37 172.04,322.68 168.57,322.99 165.11,323.31 161.64,323.69 158.18,324.07 154.71,324.44 151.25,324.82 147.78,325.07 144.32,325.31 140.85,325.55 137.39,325.81 133.93,326.08 130.46,326.34 126.99,326.45 123.53,326.56 120.06,326.67 116.60,326.78 113.13,326.78 109.67,326.78 106.20,326.61 102.74,326.44 99.27,326.27 95.81,326.13 92.34,325.98 88.88,326.03 85.41,326.08 81.95,326.13 78.48,326.20 75.02,326.27 71.55,326.34 68.09,328.80"/>
<polygon fill="#F4B183" points="68.09,328.80 71.55,326.34 75.02,326.27 78.48,326.20 81.95,326.13 85.41,326.08 88.88,326.03 92.34,325.98 95.81,326.13 99.27,326.27 102.74,326.44 106.20,326.61 109.67,326.78 113.13,326.78 116.60,326.78 120.06,326.67 123.53,326.56 126.99,326.45 130.46,326.34 133.93,326.08 137.39,325.81 140.85,325.55 144.32,325.31 147.78,325.07 151.25,324.82 154.71,324.44 158.18,324.07 161.64,323.69 165.11,323.31 168.57,322.99 172.04,322.68 175.50,322.37 178.97,321.76 182.44,321.16 185.90,320.56 189.37,321.72 192.83,322.87 196.30,322.66 199.76,322.44 203.22,322.15 206.69,321.86 210.15,321.57 213.62,320.41 217.08,319.15 220.55,317.88 224.01,316.98 227.48,316.08 230.94,315.50 234.41,314.34 237.88,313.19 241.34,311.16 244.81,307.98 248.27,303.93 251.74,302.05 255.20,299.89 258.66,303.79 262.13,304.66 265.59,302.78 269.06,300.61 272.52,297.72 275.99,295.55 279.45,295.26 282.92,293.81 286.38,291.93 289.85,288.18 293.31,283.98 296.78,279.65 300.25,276.77 303.71,273.96 307.18,270.98 310.64,268.16 314.11,264.86 317.57,261.63 321.04,258.17 324.50,258.83 327.96,259.01 331.43,257.67 334.89,255.79 338.36,252.18 341.82,247.12 345.29,241.71 348.75,236.06 352.22,232.36 355.69,230.60 359.15,229.31 362.62,218.97 366.08,228.64 369.55,225.05 373.01,223.26 376.48,220.19 379.94,217.12 383.40,217.76 386.87,220.50 390.33,214.68 393.80,211.75 397.26,206.91 400.73,200.54 404.19,190.30 407.66,177.99 411.12,165.14 414.59,153.54 418.06,141.25 421.52,130.26 424.99,122.01 428.45,106.24 431.92,90.50 435.38,81.63 438.84,78.63 442.31,70.57 445.77,68.82 449.24,66.14 452.70,61.13 456.17,55.81 459.63,44.51 463.10,48.72 466.56,30.48 470.03,327.50 470.03,327.50 466.56,33.48 463.10,51.40 459.63,47.23 456.17,58.14 452.70,63.79 449.24,68.75 445.77,71.30 442.31,72.81 438.84,80.55 435.38,83.58 431.92,92.38 428.45,108.16 424.99,123.86 421.52,131.95 418.06,142.73 414.59,154.88 411.12,166.48 407.66,179.25 404.19,191.56 400.73,201.83 397.26,208.14 393.80,212.88 390.33,215.80 386.87,221.46 383.40,218.77 379.94,218.14 376.48,221.17 373.01,224.29 369.55,225.99 366.08,229.51 362.62,219.84 359.15,230.14 355.69,231.47 352.22,233.23 348.75,236.94 345.29,242.54 341.82,247.82 338.36,252.60 334.89,256.20 331.43,258.14 327.96,259.58 324.50,259.60 321.04,258.97 317.57,262.21 314.11,265.44 310.64,268.74 307.18,271.56 303.71,274.54 300.25,277.34 296.78,280.16 293.31,283.98 289.85,288.18 286.38,291.93 282.92,293.81 279.45,295.26 275.99,295.55 272.52,297.72 269.06,300.61 265.59,302.78 262.13,304.66 258.66,303.79 255.20,299.89 251.74,302.05 248.27,303.93 244.81,307.98 241.34,311.16 237.88,313.19 234.41,314.34 230.94,315.50 227.48,316.08 224.01,316.98 220.55,317.88 217.08,319.15 213.62,320.41 210.15,321.57 206.69,321.86 203.22,322.15 199.76,322.44 196.30,322.66 192.83,322.87 189.37,321.72 185.90,320.56 182.44,321.16 178.97,321.76 175.50,322.37 172.04,322.68 168.57,322.99 165.11,323.31 161.64,323.69 158.18,324.07 154.71,324.44 151.25,324.82 147.78,325.07 144.32,325.31 140.85,325.55 137.39,325.81 133.93,326.08 130.46,326.34 126.99,326.45 123.53,326.56 120.06,326.67 116.60,326.78 113.13,326.78 109.67,326.78 106.20,326.61 102.74,326.44 99.27,326.27 95.81,326.13 92.34,325.98 88.88,326.03 85.41,326.08 81.95,326.13 78.48,326.20 75.02,326.27 71.55,326.34 68.09,328.80"/>
<polygon fill="#9DC3E6" points="68.09,328.80 71.55,326.34 75.02,326.27 78.48,326.20 81.95,326.13 85.41,326.08 88.88,326.03 92.34,325.98 95.81,326.13 99.27,326.27 102.74,326.44 106.20,326.61 109.67,326.78 113.13,326.78 116.60,326.78 120.06,326.67 123.53,326.56 126.99,326.45 130.46,326.34 133.93,326.08 137.39,325.81 140.85,325.55 144.32,325.31 147.78,325.07 151.25,324.82 154.71,324.44 158.18,324.07 161.64,323.69 165.11,323.31 168.57,322.99 172.04,322.68 175.50,322.37 178.97,321.76 182.44,321.16 185.90,320.56 189.37,321.72 192.83,322.87 196.30,322.66 199.76,322.44 203.22,322.15 206.69,321.86 210.15,321.57 213.62,320.41 217.08,319.15 220.55,317.88 224.01,316.98 227.48,316.08 230.94,315.50 234.41,314.34 237.88,313.19 241.34,311.16 244.81,307.98 248.27,303.93 251.74,302.05 255.20,299.89 258.66,303.79 262.13,304.66 265.59,302.78 269.06,300.61 272.52,297.72 275.99,295.55 279.45,295.26 282.92,293.81 286.38,291.93 289.85,288.18 293.31,283.98 296.78,279.65 300.25,276.77 303.71,273.96 307.18,270.98 310.64,268.16 314.11,264.86 317.57,261.63 321.04,257.97 324.50,258.83 327.96,259.01 331.43,257.67 334.89,255.79 338.36,252.18 341.82,247.12 345.29,241.49 348.75,235.80 352.22,232.11 355.69,230.35 359.15,229.08 362.62,218.72 366.08,228.38 369.55,224.74 373.01,222.87 376.48,219.84 379.94,216.73 383.40,217.39 386.87,220.17 390.33,214.20 393.80,211.28 397.26,206.35 400.73,199.91 404.19,189.71 407.66,177.40 411.12,164.47 414.59,152.87 418.06,140.46 421.52,129.28 424.99,120.90 428.45,105.06 431.92,89.35 435.38,80.43 438.84,77.46 442.31,69.11 445.77,67.16 449.24,64.36 452.70,59.30 456.17,54.29 459.63,42.64 463.10,46.89 466.56,28.36 470.03,327.50 470.03,327.50 466.56,31.06 463.10,49.30 459.63,45.09 456.17,56.39 452.70,61.71 449.24,66.72 445.77,69.40 442.31,71.14 438.84,79.21 435.38,82.21 431.92,91.07 428.45,106.82 424.99,122.59 421.52,130.84 418.06,141.82 414.59,154.12 411.12,165.72 407.66,178.57 404.19,190.88 400.73,201.12 397.26,207.49 393.80,212.33 390.33,215.26 386.87,221.08 383.40,218.34 379.94,217.70 376.48,220.77 373.01,223.84 369.55,225.63 366.08,229.21 362.62,219.55 359.15,229.88 355.69,231.18 352.22,232.94 348.75,236.64 345.29,242.29 341.82,247.64 338.36,252.60 334.89,256.20 331.43,258.14 327.96,259.58 324.50,259.41 321.04,258.74 317.57,262.21 314.11,265.44 310.64,268.74 307.18,271.56 303.71,274.54 300.25,277.34 296.78,280.16 293.31,283.98 289.85,288.18 286.38,291.93 282.92,293.81 279.45,295.26 275.99,295.55 272.52,297.72 269.06,300.61 265.59,302.78 262.13,304.66 258.66,303.79 255.20,299.89 251.74,302.05 248.27,303.93 244.81,307.98 241.34,311.16 237.88,313.19 234.41,314.34 230.94,315.50 227.48,316.08 224.01,316.98 220.55,317.88 217.08,319.15 213.62,320.41 210.15,321.57 206.69,321.86 203.22,322.15 199.76,322.44 196.30,322.66 192.83,322.87 189.37,321.72 185.90,320.56 182.44,321.16 178.97,321.76 175.50,322.37 172.04,322.68 168.57,322.99 165.11,323.31 161.64,323.69 158.18,324.07 154.71,324.44 151.25,324.82 147.78,325.07 144.32,325.31 140.85,325.55 137.39,325.81 133.93,326.08 130.46,326.34 126.99,326.45 123.53,326.56 120.06,326.67 116.60,326.78 113.13,326.78 109.67,326.78 106.20,326.61 102.74,326.44 99.27,326.27 95.81,326.13 92.34,325.98 88.88,326.03 85.41,326.08 81.95,326.13 78.48,326.20 75.02,326.27 71.55,326.34 68.09,328.80"/>
<polygon fill="#A5A5A5" points="68.09,328.80 71.55,326.34 75.02,326.27 78.48,326.20 81.95,326.13 85.41,326.08 88.88,326.03 92.34,325.98 95.81,326.13 99.27,326.27 102.74,326.44 106.20,326.61 109.67,326.78 113.13,326.78 116.60,326.78 120.06,326.67 123.53,326.56 126.99,326.45 130.46,326.34 133.93,326.08 137.39,325.81 140.85,325.55 144.32,325.31 147.78,325.07 151.25,324.82 154.71,324.44 158.18,324.07 161.64,323.69 165.11,323.31 168.57,322.99 172.04,322.68 175.50,322.37 178.97,321.76 182.44,321.16 185.90,320.56 189.37,321.72 192.83,322.87 196.30,322.66 199.76,322.44 203.22,322.15 206.69,321.86 210.15,321.57 213.62,320.41 217.08,319.15 220.55,317.88 224.01,316.98 227.48,316.08 230.94,315.50 234.41,314.34 237.88,313.19 241.34,311.16 244.81,307.98 248.27,303.93 251.74,302.05 255.20,299.89 258.66,303.79 262.13,304.66 265.59,302.78 269.06,300.61 272.52,297.72 275.99,295.55 279.45,295.26 282.92,293.81 286.38,291.93 289.85,288.18 293.31,283.98 296.78,279.65 300.25,276.75 303.71,273.86 307.18,270.97 310.64,268.08 314.11,264.76 317.57,261.57 321.04,257.67 324.50,258.68 327.96,258.97 331.43,257.67 334.89,255.79 338.36,252.18 341.82,247.12 345.29,241.34 348.75,235.55 352.22,231.94 355.69,230.20 359.15,229.05 362.62,218.64 366.08,228.32 369.55,224.57 373.01,222.54 376.48,219.65 379.94,216.47 383.40,217.19 386.87,220.08 390.33,213.87 393.80,210.98 397.26,205.92 400.73,199.41 404.19,189.29 407.66,177.00 411.12,163.99 414.59,152.42 418.06,139.86 421.52,128.56 424.99,120.10 428.45,104.22 431.92,88.56 435.38,79.61 438.84,76.68 442.31,68.16 445.77,66.09 449.24,63.24 452.70,58.18 456.17,53.37 459.63,41.53 463.10,45.82 466.56,27.15 470.03,327.50 470.03,327.50 466.56,28.94 463.10,47.47 459.63,43.22 456.17,54.86 452.70,59.88 449.24,64.94 445.77,67.74 442.31,69.69 438.84,78.04 435.38,81.01 431.92,89.93 428.45,105.63 424.99,121.48 421.52,129.86 418.06,141.03 414.59,153.45 411.12,165.05 407.66,177.97 404.19,190.29 400.73,200.49 397.26,206.93 393.80,211.86 390.33,214.78 386.87,220.74 383.40,217.96 379.94,217.30 376.48,220.42 373.01,223.45 369.55,225.32 366.08,228.96 362.62,219.30 359.15,229.66 355.69,230.93 352.22,232.69 348.75,236.38 345.29,242.07 341.82,247.64 338.36,252.60 334.89,256.20 331.43,258.14 327.96,259.58 324.50,259.41 321.04,258.55 317.57,262.21 314.11,265.44 310.64,268.74 307.18,271.56 303.71,274.54 300.25,277.34 296.78,280.16 293.31,283.98 289.85,288.18 286.38,291.93 282.92,293.81 279.45,295.26 275.99,295.55 272.52,297.72 269.06,300.61 265.59,302.78 262.13,304.66 258.66,303.79 255.20,299.89 251.74,302.05 248.27,303.93 244.81,307.98 241.34,311.16 237.88,313.19 234.41,314.34 230.94,315.50 227.48,316.08 224.01,316.98 220.55,317.88 217.08,319.15 213.62,320.41 210.15,321.57 206.69,321.86 203.22,322.15 199.76,322.44 196.30,322.66 192.83,322.87 189.37,321.72 185.90,320.56 182.44,321.16 178.97,321.76 175.50,322.37 172.04,322.68 168.57,322.99 165.11,323.31 161.64,323.69 158.18,324.07 154.71,324.44 151.25,324.82 147.78,325.07 144.32,325.31 140.85,325.55 137.39,325.81 133.93,326.08 130.46,326.34 126.99,326.45 123.53,326.56 120.06,326.67 116.60,326.78 113.13,326.78 109.67,326.78 106.20,326.61 102.74,326.44 99.27,326.27 95.81,326.13 92.34,325.98 88.88,326.03 85.41,326.08 81.95,326.13 78.48,326.20 75.02,326.27 71.55,326.34 68.09,328.80"/>
<polygon fill="#B4C7E7" points="68.09,328.80 71.55,326.34 75.02,326.27 78.48,326.20 81.95,326.13 85.41,326.08 88.88,326.03 92.34,325.98 95.81,326.13 99.27,326.27 102.74,326.44 106.20,326.61 109.67,326.78 113.13,326.78 116.60,326.78 120.06,326.67 123.53,326.56 126.99,326.45 130.46,326.34 133.93,326.08 137.39,325.81 140.85,325.55 144.32,325.31 147.78,325.07 151.25,324.82 154.71,324.44 158.18,324.07 161.64,323.69 165.11,323.31 168.57,322.99 172.04,322.68 175.50,322.37 178.97,321.76 182.44,321.16 185.90,320.56 189.37,321.72 192.83,322.87 196.30,322.66 199.76,322.44 203.22,322.15 206.69,321.86 210.15,321.57 213.62,320.41 217.08,319.15 220.55,317.88 224.01,316.98 227.48,316.08 230.94,315.50 234.41,314.34 237.88,313.19 241.34,311.16 244.81,307.98 248.27,303.93 251.74,302.05 255.20,299.89 258.66,303.79 262.13,304.66 265.59,302.78 269.06,300.61 272.52,297.72 275.99,295.55 279.45,295.26 282.92,293.81 286.38,291.93 289.85,288.18 293.31,283.98 296.78,279.65 300.25,276.75 303.71,273.86 307.18,270.97 310.64,268.08 314.11,264.76 317.57,261.57 321.04,257.67 324.50,258.68 327.96,258.97 331.43,257.67 334.89,255.79 338.36,252.18 341.82,247.12 345.29,241.34 348.75,235.55 352.22,231.94 355.69,230.20 359.15,229.05 362.62,218.64 366.08,228.32 369.55,224.57 373.01,222.54 376.48,219.65 379.94,216.47 383.40,217.19 386.87,220.08 390.33,213.87 393.80,210.98 397.26,205.92 400.73,199.41 404.19,189.29 407.66,177.00 411.12,163.99 414.59,152.42 418.06,139.85 421.52,128.43 424.99,119.90 428.45,103.99 431.92,88.38 435.38,79.42 438.84,76.53 442.31,67.85 445.77,65.68 449.24,62.79 452.70,57.73 456.17,53.11 459.63,41.11 463.10,45.44 466.56,26.65 470.03,327.50 470.03,327.50 466.56,27.73 463.10,46.40 459.63,42.11 456.17,53.94 452.70,58.76 449.24,63.82 445.77,66.67 442.31,68.74 438.84,77.26 435.38,80.19 431.92,89.14 428.45,104.80 424.99,120.68 421.52,129.14 418.06,140.44 414.59,152.94 411.12,164.52 407.66,177.49 404.19,189.79 400.73,199.96 397.26,206.43 393.80,211.42 390.33,214.33 386.87,220.42 383.40,217.59 379.94,216.90 376.48,220.05 373.01,223.01 369.55,224.96 366.08,228.66 362.62,218.98 359.15,229.37 355.69,230.58 352.22,232.32 348.75,235.97 345.29,241.70 341.82,247.38 338.36,252.39 334.89,255.99 331.43,257.90 327.96,259.27 324.50,259.03 321.04,258.10 317.57,261.89 314.11,265.10 310.64,268.42 307.18,271.28 303.71,274.22 300.25,277.07 296.78,279.93 293.31,283.98 289.85,288.18 286.38,291.93 282.92,293.81 279.45,295.26 275.99,295.55 272.52,297.72 269.06,300.61 265.59,302.78 262.13,304.66 258.66,303.79 255.20,299.89 251.74,302.05 248.27,303.93 244.81,307.98 241.34,311.16 237.88,313.19 234.41,314.34 230.94,315.50 227.48,316.08 224.01,316.98 220.55,317.88 217.08,319.15 213.62,320.41 210.15,321.57 206.69,321.86 203.22,322.15 199.76,322.44 196.30,322.66 192.83,322.87 189.37,321.72 185.90,320.56 182.44,321.16 178.97,321.76 175.50,322.37 172.04,322.68 168.57,322.99 165.11,323.31 161.64,323.69 158.18,324.07 154.71,324.44 151.25,324.82 147.78,325.07 144.32,325.31 140.85,325.55 137.39,325.81 133.93,326.08 130.46,326.34 126.99,326.45 123.53,326.56 120.06,326.67 116.60,326.78 113.13,326.78 109.67,326.78 106.20,326.61 102.74,326.44 99.27,326.27 95.81,326.13 92.34,325.98 88.88,326.03 85.41,326.08 81.95,326.13 78.48,326.20 75.02,326.27 71.55,326.34 68.09,328.80"/>
</g>
<g stroke="#333333" stroke-width="1.1">
<line x1="42.8" y1="328.80" x2="47.5" y2="328.80"/>
<line x1="42.8" y1="299.89" x2="47.5" y2="299.89"/>
<line x1="42.8" y1="270.97" x2="47.5" y2="270.97"/>
<line x1="42.8" y1="242.06" x2="47.5" y2="242.06"/>
<line x1="42.8" y1="213.14" x2="47.5" y2="213.14"/>
<line x1="42.8" y1="184.23" x2="47.5" y2="184.23"/>
<line x1="42.8" y1="155.32" x2="47.5" y2="155.32"/>
<line x1="42.8" y1="126.40" x2="47.5" y2="126.40"/>
<line x1="42.8" y1="97.49" x2="47.5" y2="97.49"/>
<line x1="42.8" y1="68.57" x2="47.5" y2="68.57"/>
<line x1="42.8" y1="39.66" x2="47.5" y2="39.66"/>
<line x1="42.8" y1="10.75" x2="47.5" y2="10.75"/>
<line x1="47.30" y1="328.80" x2="47.30" y2="332.8"/>
<line x1="81.95" y1="328.80" x2="81.95" y2="332.8"/>
<line x1="116.60" y1="328.80" x2="116.60" y2="332.8"/>
<line x1="151.25" y1="328.80" x2="151.25" y2="332.8"/>
<line x1="185.90" y1="328.80" x2="185.90" y2="332.8"/>
<line x1="220.55" y1="328.80" x2="220.55" y2="332.8"/>
<line x1="255.20" y1="328.80" x2="255.20" y2="332.8"/>
<line x1="289.85" y1="328.80" x2="289.85" y2="332.8"/>
<line x1="324.50" y1="328.80" x2="324.50" y2="332.8"/>
<line x1="359.15" y1="328.80" x2="359.15" y2="332.8"/>
<line x1="393.80" y1="328.80" x2="393.80" y2="332.8"/>
<line x1="428.45" y1="328.80" x2="428.45" y2="332.8"/>
<line x1="463.10" y1="328.80" x2="463.10" y2="332.8"/>
<line x1="497.75" y1="328.80" x2="497.75" y2="332.8"/>
<line x1="532.40" y1="328.80" x2="532.40" y2="332.8"/>
</g>
<line x1="47.5" y1="10.75" x2="532.55" y2="10.75" stroke="#7a7a7a" stroke-width="1.5"/>
<line x1="532.55" y1="10.0" x2="532.55" y2="328.8" stroke="#737373" stroke-width="1.5"/>
<line x1="46.6" y1="328.8" x2="532.55" y2="328.8" stroke="#303030" stroke-width="1.5"/>
<line x1="47.4" y1="10.2" x2="47.4" y2="329.5" stroke="#262626" stroke-width="1.6"/>
<g font-size="12" fill="#1a1a1a" stroke="#1a1a1a" stroke-width="0.4">
<text x="34.0" y="332.30" text-anchor="end">0</text>
<text x="34.0" y="303.39" text-anchor="end">2</text>
<text x="34.0" y="274.47" text-anchor="end">4</text>
<text x="34.0" y="245.56" text-anchor="end">6</text>
<text x="34.0" y="216.64" text-anchor="end">8</text>
<text x="34.0" y="187.73" text-anchor="end">10</text>
<text x="34.0" y="158.82" text-anchor="end">12</text>
<text x="34.0" y="129.90" text-anchor="end">14</text>
<text x="34.0" y="100.99" text-anchor="end">16</text>
<text x="34.0" y="72.07" text-anchor="end">18</text>
<text x="34.0" y="43.16" text-anchor="end">20</text>
<text x="34.0" y="14.25" text-anchor="end">22</text>
<text x="47.30" y="350.2" text-anchor="middle">1900</text>
<text x="81.95" y="350.2" text-anchor="middle">1910</text>
<text x="116.60" y="350.2" text-anchor="middle">1920</text>
<text x="151.25" y="350.2" text-anchor="middle">1930</text>
<text x="185.90" y="350.2" text-anchor="middle">1940</text>
<text x="220.55" y="350.2" text-anchor="middle">1950</text>
<text x="255.20" y="350.2" text-anchor="middle">1960</text>
<text x="289.85" y="350.2" text-anchor="middle">1970</text>
<text x="324.50" y="350.2" text-anchor="middle">1980</text>
<text x="359.15" y="350.2" text-anchor="middle">1990</text>
<text x="393.80" y="350.2" text-anchor="middle">2000</text>
<text x="428.45" y="350.2" text-anchor="middle">2010</text>
<text x="463.10" y="350.2" text-anchor="middle">2020</text>
<text x="497.75" y="350.2" text-anchor="middle">2030</text>
<text x="532.40" y="350.2" text-anchor="middle">2040</text>
</g>
<text transform="translate(13.2,226) rotate(-90)" font-size="11.6" fill="#1a1a1a" stroke="#1a1a1a" stroke-width="0.3" textLength="112" lengthAdjust="spacingAndGlyphs">CO<tspan font-size="7.5" dy="2.5">2</tspan><tspan dy="-2.5"> emission (Gtpa)</tspan></text>
<text x="425.8" y="299.0" font-size="9.9" font-weight="bold" fill="#1a1a1a" textLength="23.7" lengthAdjust="spacingAndGlyphs">China</text>
<text x="440.3" y="172.4" font-size="9.9" font-weight="bold" fill="#ffffff" textLength="19.9" lengthAdjust="spacingAndGlyphs">India</text>
<text x="435.5" y="142.3" font-size="9.9" font-weight="bold" fill="#1a1a1a" textLength="25.5" lengthAdjust="spacingAndGlyphs">Russia</text>
<path d="M467.6,30.7 H474.3 Q475.8,30.7 475.8,32.2 V63.6 Q475.8,66.1 478.3,66.1 M475.8,68.6 Q475.8,66.1 478.3,66.1 M475.8,68.6 V96.3 Q475.8,97.8 474.3,97.8 H467.6" fill="none" stroke="#4a4a4a" stroke-width="1.25"/>
<path d="M477.5,66.1 H483.8" fill="none" stroke="#2a2a2a" stroke-width="1.6"/>
<g font-size="10.3" fill="#1a1a1a" stroke="#1a1a1a" stroke-width="0.5">
<text x="487.1" y="45.2" textLength="26.5" lengthAdjust="spacingAndGlyphs">Other</text>
<text x="487.3" y="59.6" textLength="40.2" lengthAdjust="spacingAndGlyphs">polluters</text>
<text x="487.1" y="73.7" textLength="36.1" lengthAdjust="spacingAndGlyphs">listed in</text>
<text x="487.1" y="87.5" textLength="32.9" lengthAdjust="spacingAndGlyphs">Table 2</text>
</g>
</svg>
</body></html>
